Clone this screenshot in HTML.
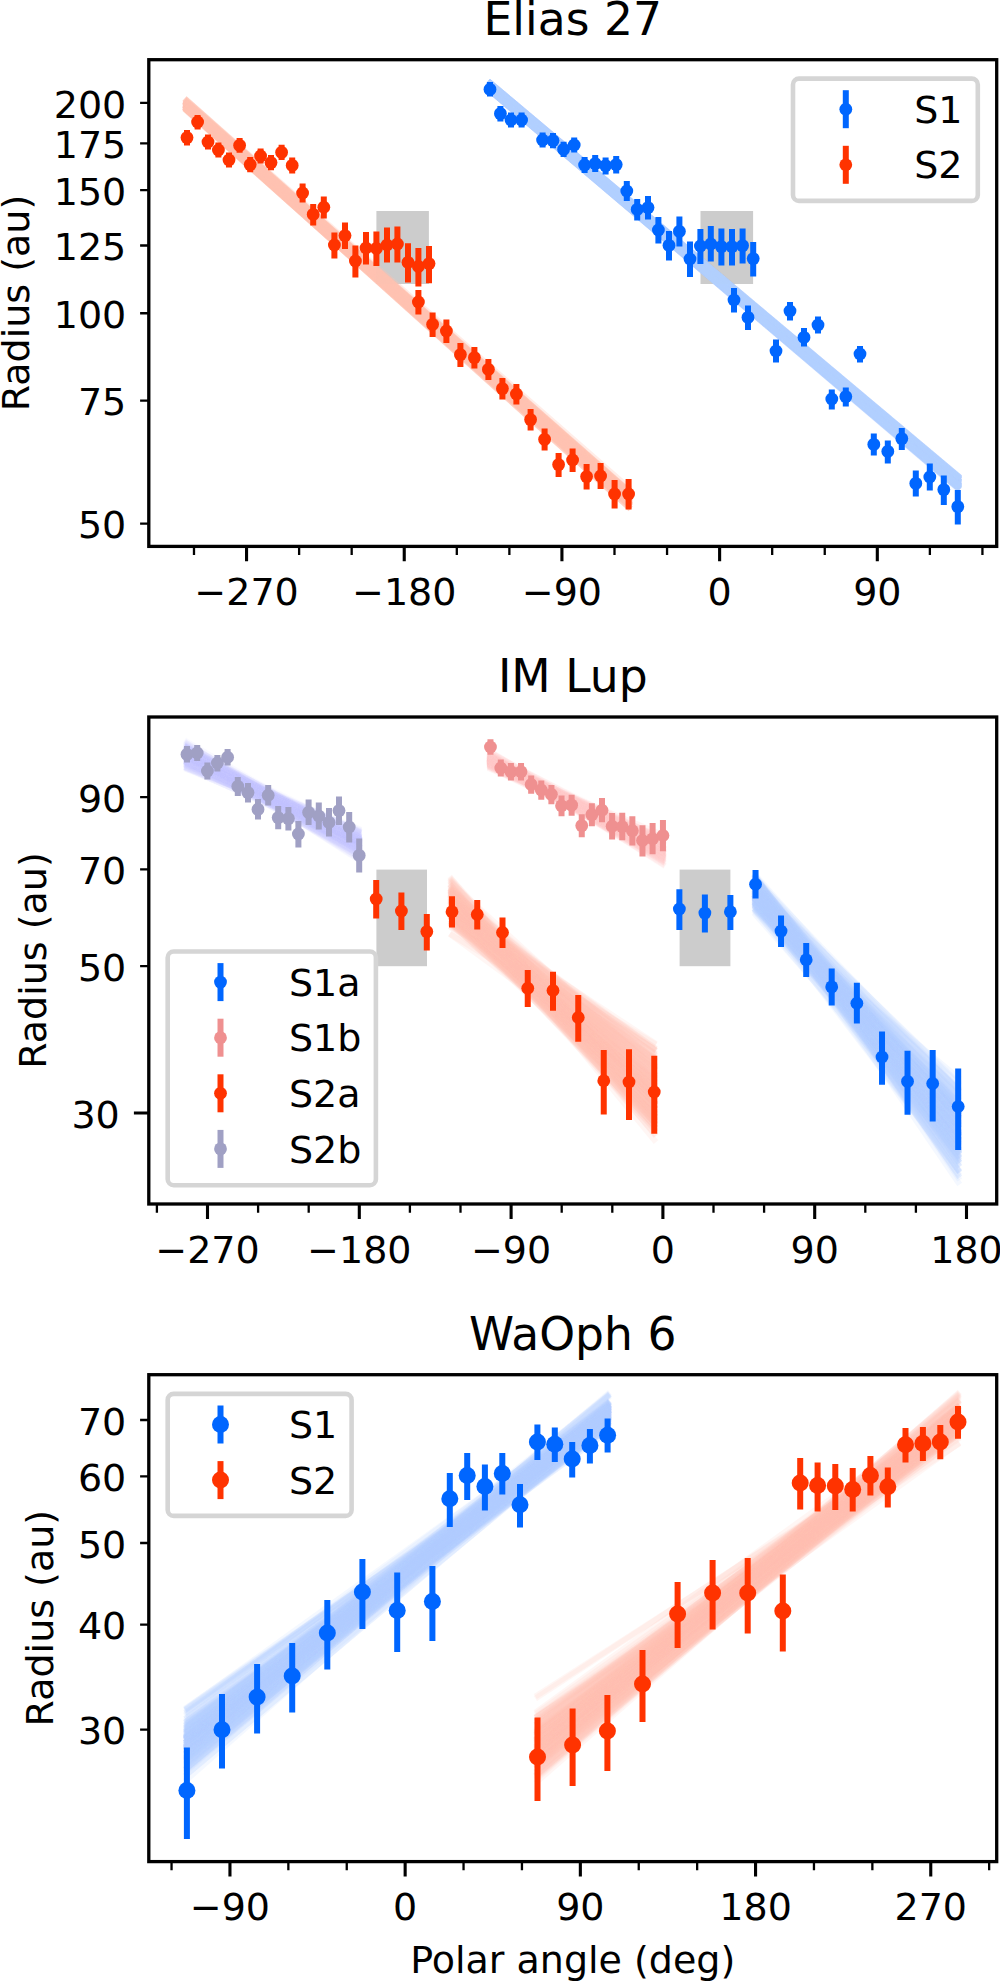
<!DOCTYPE html>
<html lang="en"><head><meta charset="utf-8"><title>Spiral arm radius vs polar angle</title>
<style>html,body{margin:0;padding:0;background:#fff}svg{display:block}text{font-family:'DejaVu Sans','Liberation Sans',sans-serif}</style>
</head><body>
<svg width="1000" height="1981" viewBox="0 0 1000 1981">
<rect width="1000" height="1981" fill="#fff"/>
<g id="p1">
<rect x="376.4" y="211" width="52.5" height="73" fill="#cccccc"/>
<rect x="700.5" y="211" width="52.6" height="73" fill="#cccccc"/>
<g stroke="#ffc2b3" stroke-width="6" stroke-opacity="0.3" fill="none">
<path d="M184.6 100.9L630.6 496.6"/>
<path d="M184.6 102.3L630.6 498.9"/>
<path d="M184.6 105.0L630.6 497.8"/>
<path d="M184.6 98.5L630.6 496.0"/>
<path d="M184.6 101.1L630.6 494.3"/>
<path d="M184.6 108.9L630.6 506.3"/>
<path d="M184.6 107.2L630.6 504.2"/>
<path d="M184.6 105.1L630.6 498.7"/>
<path d="M184.6 105.1L630.6 504.7"/>
<path d="M184.6 103.9L630.6 502.1"/>
<path d="M184.6 105.5L630.6 498.5"/>
<path d="M184.6 106.4L630.6 504.1"/>
<path d="M184.6 101.5L630.6 493.1"/>
<path d="M184.6 107.5L630.6 504.5"/>
<path d="M184.6 106.0L630.6 506.0"/>
<path d="M184.6 105.9L630.6 506.3"/>
<path d="M184.6 102.5L630.6 500.9"/>
<path d="M184.6 103.1L630.6 502.7"/>
<path d="M184.6 107.7L630.6 501.6"/>
<path d="M184.6 99.8L630.6 492.5"/>
<path d="M184.6 108.6L630.6 505.6"/>
<path d="M184.6 105.0L630.6 499.8"/>
<path d="M184.6 103.7L630.6 498.9"/>
<path d="M184.6 102.1L630.6 498.5"/>
<path d="M184.6 104.5L630.6 504.4"/>
<path d="M184.6 105.6L630.6 505.9"/>
<path d="M184.6 107.4L630.6 508.8"/>
<path d="M184.6 105.5L630.6 499.3"/>
<path d="M184.6 107.5L630.6 508.6"/>
<path d="M184.6 107.9L630.6 505.9"/>
<path d="M184.6 105.9L630.6 500.3"/>
<path d="M184.6 107.2L630.6 504.9"/>
<path d="M184.6 101.4L630.6 493.2"/>
<path d="M184.6 107.4L630.6 508.7"/>
<path d="M184.6 99.3L630.6 496.7"/>
<path d="M184.6 102.7L630.6 495.6"/>
<path d="M184.6 101.5L630.6 499.3"/>
<path d="M184.6 107.6L630.6 501.0"/>
<path d="M184.6 104.9L630.6 497.5"/>
<path d="M184.6 106.0L630.6 501.3"/>
<path d="M184.6 107.7L630.6 509.0"/>
<path d="M184.6 103.7L630.6 504.1"/>
<path d="M184.6 101.6L630.6 493.6"/>
<path d="M184.6 104.7L630.6 497.2"/>
<path d="M184.6 100.4L630.6 494.9"/>
<path d="M184.6 104.8L630.6 498.4"/>
<path d="M184.6 98.8L630.6 496.7"/>
<path d="M184.6 101.7L630.6 501.1"/>
<path d="M184.6 107.9L630.6 504.2"/>
<path d="M184.6 103.2L630.6 499.4"/>
<path d="M184.6 105.2L630.6 502.6"/>
<path d="M184.6 104.3L630.6 501.6"/>
<path d="M184.6 108.3L630.6 505.9"/>
<path d="M184.6 102.9L630.6 500.7"/>
<path d="M184.6 100.9L630.6 494.6"/>
<path d="M184.6 108.7L630.6 506.5"/>
<path d="M184.6 104.2L630.6 496.3"/>
<path d="M184.6 102.8L630.6 499.3"/>
<path d="M184.6 98.6L630.6 494.2"/>
<path d="M184.6 105.1L630.6 497.9"/>
<path d="M184.6 105.0L630.6 501.2"/>
<path d="M184.6 105.6L630.6 501.0"/>
<path d="M184.6 105.8L630.6 504.6"/>
<path d="M184.6 98.6L630.6 489.6"/>
<path d="M184.6 105.5L630.6 506.1"/>
<path d="M184.6 101.0L630.6 496.0"/>
<path d="M184.6 104.6L630.6 499.5"/>
<path d="M184.6 102.2L630.6 496.4"/>
<path d="M184.6 102.3L630.6 498.8"/>
<path d="M184.6 101.5L630.6 496.1"/>
<path d="M184.6 106.5L630.6 499.5"/>
<path d="M184.6 104.4L630.6 502.7"/>
<path d="M184.6 101.6L630.6 494.9"/>
<path d="M184.6 106.9L630.6 501.7"/>
<path d="M184.6 100.3L630.6 495.0"/>
<path d="M184.6 105.7L630.6 499.1"/>
<path d="M184.6 101.8L630.6 496.0"/>
<path d="M184.6 107.2L630.6 503.8"/>
<path d="M184.6 107.4L630.6 501.8"/>
<path d="M184.6 101.9L630.6 498.8"/>
<path d="M184.6 107.7L630.6 504.6"/>
<path d="M184.6 100.7L630.6 492.9"/>
<path d="M184.6 104.0L630.6 497.6"/>
<path d="M184.6 106.9L630.6 506.8"/>
<path d="M184.6 100.3L630.6 493.6"/>
<path d="M184.6 106.9L630.6 505.2"/>
<path d="M184.6 106.9L630.6 502.7"/>
<path d="M184.6 99.7L630.6 493.0"/>
<path d="M184.6 106.8L630.6 501.9"/>
<path d="M184.6 102.0L630.6 497.0"/>
</g>
<g stroke="#b3d1ff" stroke-width="6" stroke-opacity="0.3" fill="none">
<path d="M488 82.8L959.8 479.3"/>
<path d="M488 84.1L959.8 481.2"/>
<path d="M488 81.4L959.8 478.5"/>
<path d="M488 88.2L959.8 489.0"/>
<path d="M488 87.0L959.8 485.3"/>
<path d="M488 85.2L959.8 483.1"/>
<path d="M488 82.3L959.8 478.6"/>
<path d="M488 82.6L959.8 482.0"/>
<path d="M488 87.5L959.8 488.1"/>
<path d="M488 87.3L959.8 485.6"/>
<path d="M488 83.4L959.8 481.9"/>
<path d="M488 86.8L959.8 487.2"/>
<path d="M488 87.9L959.8 486.1"/>
<path d="M488 85.7L959.8 485.2"/>
<path d="M488 84.9L959.8 482.4"/>
<path d="M488 84.7L959.8 481.8"/>
<path d="M488 88.4L959.8 489.4"/>
<path d="M488 85.3L959.8 483.3"/>
<path d="M488 88.2L959.8 488.1"/>
<path d="M488 88.0L959.8 488.8"/>
<path d="M488 85.0L959.8 483.3"/>
<path d="M488 85.7L959.8 484.3"/>
<path d="M488 82.2L959.8 479.2"/>
<path d="M488 87.4L959.8 485.2"/>
<path d="M488 81.3L959.8 479.1"/>
<path d="M488 83.1L959.8 481.3"/>
<path d="M488 84.7L959.8 482.6"/>
<path d="M488 88.9L959.8 487.7"/>
<path d="M488 84.2L959.8 481.5"/>
<path d="M488 86.0L959.8 484.1"/>
<path d="M488 83.7L959.8 482.8"/>
<path d="M488 83.5L959.8 481.8"/>
<path d="M488 88.1L959.8 486.4"/>
<path d="M488 81.4L959.8 477.9"/>
<path d="M488 87.0L959.8 486.7"/>
<path d="M488 82.8L959.8 480.1"/>
<path d="M488 82.3L959.8 479.9"/>
<path d="M488 81.2L959.8 479.3"/>
<path d="M488 88.1L959.8 489.3"/>
<path d="M488 86.8L959.8 487.6"/>
<path d="M488 81.0L959.8 477.6"/>
<path d="M488 88.6L959.8 489.4"/>
<path d="M488 84.2L959.8 484.1"/>
<path d="M488 85.9L959.8 485.9"/>
<path d="M488 83.2L959.8 480.2"/>
<path d="M488 84.5L959.8 481.6"/>
<path d="M488 84.0L959.8 483.9"/>
<path d="M488 83.6L959.8 480.0"/>
<path d="M488 81.3L959.8 477.5"/>
<path d="M488 87.2L959.8 486.0"/>
<path d="M488 83.2L959.8 479.9"/>
<path d="M488 88.8L959.8 488.4"/>
<path d="M488 82.6L959.8 478.9"/>
<path d="M488 81.3L959.8 477.6"/>
<path d="M488 86.3L959.8 484.2"/>
<path d="M488 81.2L959.8 478.6"/>
<path d="M488 82.9L959.8 482.6"/>
<path d="M488 81.9L959.8 479.6"/>
<path d="M488 87.1L959.8 486.1"/>
<path d="M488 88.8L959.8 488.6"/>
<path d="M488 82.8L959.8 480.4"/>
<path d="M488 81.2L959.8 478.3"/>
<path d="M488 82.9L959.8 482.2"/>
<path d="M488 87.5L959.8 487.0"/>
<path d="M488 81.2L959.8 477.7"/>
<path d="M488 82.8L959.8 479.7"/>
<path d="M488 82.8L959.8 481.9"/>
<path d="M488 82.0L959.8 478.1"/>
<path d="M488 88.3L959.8 488.3"/>
<path d="M488 88.8L959.8 488.4"/>
<path d="M488 88.1L959.8 488.3"/>
<path d="M488 87.2L959.8 487.5"/>
<path d="M488 84.9L959.8 482.0"/>
<path d="M488 82.6L959.8 481.7"/>
<path d="M488 88.1L959.8 489.2"/>
<path d="M488 83.6L959.8 482.3"/>
<path d="M488 87.3L959.8 487.2"/>
<path d="M488 87.4L959.8 486.9"/>
<path d="M488 86.1L959.8 485.8"/>
<path d="M488 83.0L959.8 482.5"/>
<path d="M488 88.6L959.8 486.9"/>
<path d="M488 88.7L959.8 490.1"/>
<path d="M488 86.2L959.8 483.7"/>
<path d="M488 88.1L959.8 486.4"/>
<path d="M488 88.6L959.8 489.1"/>
<path d="M488 81.4L959.8 477.7"/>
<path d="M488 86.0L959.8 485.2"/>
<path d="M488 86.9L959.8 487.6"/>
<path d="M488 82.6L959.8 478.8"/>
<path d="M488 88.3L959.8 486.3"/>
</g>
<g stroke="#ff3300" stroke-width="6" fill="#ff3300">
<path d="M187 130V145.6M197.6 115V129.4M208 134.6V149.4M218.4 142.6V157.4M229 152.4V167.6M239.6 138V152.8M250.2 157V172.2M260.6 148.4V163.6M271 155V170.2M281.6 144.8V160M292.2 157.4V173.4M302.6 183.4V202.6M313.2 204V225.4M323.8 196.6V218.4M334.4 232.4V258.4M345 222.4V249M355.4 245.6V277.4M366 232V264.4M376.4 231.4V266M387 227.6V262.4M397.4 226.4V262.4M408 243.2V282.4M418.4 248V286.4M429 246V283.2M418.4 290V314.4M432.6 312.4V337M446.4 319.4V343M460.4 343V367M474.4 347V368.4M488.4 359V380M502.4 378V399.4M516.4 384V404.4M530.6 409V430.4M544.6 428.6V450.4M558.6 453V477M572.6 448.6V472M586.6 464V489.6M600.6 463V489M614.6 480V508.6M628.6 479V509.6" fill="none"/>
<g stroke="none">
<circle cx="187" cy="137.6" r="6.4"/>
<circle cx="197.6" cy="122" r="6.4"/>
<circle cx="208" cy="142" r="6.4"/>
<circle cx="218.4" cy="150" r="6.4"/>
<circle cx="229" cy="160" r="6.4"/>
<circle cx="239.6" cy="145.4" r="6.4"/>
<circle cx="250.2" cy="164.6" r="6.4"/>
<circle cx="260.6" cy="156" r="6.4"/>
<circle cx="271" cy="162.6" r="6.4"/>
<circle cx="281.6" cy="152.4" r="6.4"/>
<circle cx="292.2" cy="165.4" r="6.4"/>
<circle cx="302.6" cy="193" r="6.4"/>
<circle cx="313.2" cy="214.4" r="6.4"/>
<circle cx="323.8" cy="207.2" r="6.4"/>
<circle cx="334.4" cy="245" r="6.4"/>
<circle cx="345" cy="235.6" r="6.4"/>
<circle cx="355.4" cy="261" r="6.4"/>
<circle cx="366" cy="248" r="6.4"/>
<circle cx="376.4" cy="248.4" r="6.4"/>
<circle cx="387" cy="245" r="6.4"/>
<circle cx="397.4" cy="244" r="6.4"/>
<circle cx="408" cy="262.4" r="6.4"/>
<circle cx="418.4" cy="266.4" r="6.4"/>
<circle cx="429" cy="263.6" r="6.4"/>
<circle cx="418.4" cy="302" r="6.4"/>
<circle cx="432.6" cy="324.4" r="6.4"/>
<circle cx="446.4" cy="331" r="6.4"/>
<circle cx="460.4" cy="354.6" r="6.4"/>
<circle cx="474.4" cy="357.6" r="6.4"/>
<circle cx="488.4" cy="369.4" r="6.4"/>
<circle cx="502.4" cy="388.6" r="6.4"/>
<circle cx="516.4" cy="394" r="6.4"/>
<circle cx="530.6" cy="419.6" r="6.4"/>
<circle cx="544.6" cy="439.4" r="6.4"/>
<circle cx="558.6" cy="464.6" r="6.4"/>
<circle cx="572.6" cy="460" r="6.4"/>
<circle cx="586.6" cy="476.6" r="6.4"/>
<circle cx="600.6" cy="476" r="6.4"/>
<circle cx="614.6" cy="494" r="6.4"/>
<circle cx="628.6" cy="494" r="6.4"/>
</g></g>
<g stroke="#0066ff" stroke-width="6" fill="#0066ff">
<path d="M490 82V96.6M500.4 106V121.4M511 112.4V127.6M521.6 112.4V127.6M542.6 132.6V147.6M553 133V148.2M563.6 141.8V157M574.2 137.4V152.6M584.6 157V173M595.2 155V172M605.6 157.4V174.4M616.2 156V173.6M626.8 181V201M637.2 199V220.4M648 196V219.4M658.4 217V243.6M669 231V260.6M679.4 216.6V246.6M690 241.6V277M700.4 229V264M710.8 226V261.6M721.4 228.6V265.6M732 229V265.4M742.6 228.6V263.6M753.2 242V276.4M734 288V312.6M748 305.6V330M776 339.6V362.6M790 302V320.4M804 328V346.6M818 316.6V333.6M860 346V362.4M831.8 389.4V409.4M845.8 387.4V406.6M873.8 433.4V455.6M887.8 440.6V463.4M901.8 428V450M915.8 470.6V496.6M929.8 463.6V490.6M943.8 475.4V505M957.8 490V524.4" fill="none"/>
<g stroke="none">
<circle cx="490" cy="89.4" r="6.4"/>
<circle cx="500.4" cy="113.6" r="6.4"/>
<circle cx="511" cy="120" r="6.4"/>
<circle cx="521.6" cy="120" r="6.4"/>
<circle cx="542.6" cy="140" r="6.4"/>
<circle cx="553" cy="140.6" r="6.4"/>
<circle cx="563.6" cy="149.4" r="6.4"/>
<circle cx="574.2" cy="145" r="6.4"/>
<circle cx="584.6" cy="165" r="6.4"/>
<circle cx="595.2" cy="163.6" r="6.4"/>
<circle cx="605.6" cy="165.6" r="6.4"/>
<circle cx="616.2" cy="164.6" r="6.4"/>
<circle cx="626.8" cy="191" r="6.4"/>
<circle cx="637.2" cy="209.4" r="6.4"/>
<circle cx="648" cy="207.6" r="6.4"/>
<circle cx="658.4" cy="230" r="6.4"/>
<circle cx="669" cy="245.4" r="6.4"/>
<circle cx="679.4" cy="231.4" r="6.4"/>
<circle cx="690" cy="259" r="6.4"/>
<circle cx="700.4" cy="246" r="6.4"/>
<circle cx="710.8" cy="244" r="6.4"/>
<circle cx="721.4" cy="246.6" r="6.4"/>
<circle cx="732" cy="246.6" r="6.4"/>
<circle cx="742.6" cy="245.6" r="6.4"/>
<circle cx="753.2" cy="258.6" r="6.4"/>
<circle cx="734" cy="300" r="6.4"/>
<circle cx="748" cy="317.4" r="6.4"/>
<circle cx="776" cy="351" r="6.4"/>
<circle cx="790" cy="311" r="6.4"/>
<circle cx="804" cy="337.4" r="6.4"/>
<circle cx="818" cy="325" r="6.4"/>
<circle cx="860" cy="354" r="6.4"/>
<circle cx="831.8" cy="399" r="6.4"/>
<circle cx="845.8" cy="396.6" r="6.4"/>
<circle cx="873.8" cy="444.4" r="6.4"/>
<circle cx="887.8" cy="451.4" r="6.4"/>
<circle cx="901.8" cy="438.6" r="6.4"/>
<circle cx="915.8" cy="483.4" r="6.4"/>
<circle cx="929.8" cy="477" r="6.4"/>
<circle cx="943.8" cy="489.6" r="6.4"/>
<circle cx="957.8" cy="506.6" r="6.4"/>
</g></g>
<path d="M246.55 546.4v14.9M404.24 546.4v14.9M561.93 546.4v14.9M719.62 546.4v14.9M877.31 546.4v14.9" stroke="#000" stroke-width="3.1" fill="none"/>
<path d="M193.99 546.4v8.7M299.12 546.4v8.7M351.68 546.4v8.7M456.81 546.4v8.7M509.37 546.4v8.7M614.49 546.4v8.7M667.06 546.4v8.7M772.18 546.4v8.7M824.75 546.4v8.7M929.87 546.4v8.7M982.43 546.4v8.7M148.8 102.86h-8.7M148.8 143.39h-8.7M148.8 190.17h-8.7M148.8 245.51h-8.7M148.8 313.23h-8.7M148.8 400.54h-8.7M148.8 523.6h-8.7" stroke="#000" stroke-width="2.3" fill="none"/>
<rect x="148.8" y="59.7" width="847.9" height="486.7" fill="none" stroke="#000" stroke-width="3.3"/>
<g font-size="38" fill="#000">
<text x="246.55" y="605" text-anchor="middle">−270</text>
<text x="404.24" y="605" text-anchor="middle">−180</text>
<text x="561.93" y="605" text-anchor="middle">−90</text>
<text x="719.62" y="605" text-anchor="middle">0</text>
<text x="877.31" y="605" text-anchor="middle">90</text>
<text x="126.3" y="117.56" text-anchor="end">200</text>
<text x="126.3" y="158.09" text-anchor="end">175</text>
<text x="126.3" y="204.87" text-anchor="end">150</text>
<text x="126.3" y="260.21" text-anchor="end">125</text>
<text x="126.3" y="327.93" text-anchor="end">100</text>
<text x="126.3" y="415.24" text-anchor="end">75</text>
<text x="126.3" y="538.3" text-anchor="end">50</text>
<text transform="translate(29 303.05) rotate(-90)" text-anchor="middle">Radius (au)</text>
</g>
<text x="572.75" y="34.5" text-anchor="middle" font-size="45.6">Elias 27</text>
<rect x="793" y="78.6" width="184.8" height="122.3" rx="6" ry="6" fill="#fff" fill-opacity="0.8" stroke="#d5d5d5" stroke-width="4.6"/>
<path d="M845.8 90.2V128.2" stroke="#0066ff" stroke-width="6" fill="none"/>
<circle cx="845.8" cy="109.2" r="6.4" fill="#0066ff"/>
<text x="914.2" y="122.8" font-size="38">S1</text>
<path d="M845.8 145.8V183.8" stroke="#ff3300" stroke-width="6" fill="none"/>
<circle cx="845.8" cy="164.8" r="6.4" fill="#ff3300"/>
<text x="914.2" y="178.4" font-size="38">S2</text>
</g>
<g id="p2">
<rect x="376.4" y="869.6" width="50.6" height="96.6" fill="#cccccc"/>
<rect x="679.6" y="869.6" width="50.8" height="96.6" fill="#cccccc"/>
<g stroke="#ccccff" stroke-width="5.8" stroke-opacity="0.11" fill="none">
<path d="M184.5 747.5L361 840.8"/>
<path d="M184.5 758.4L361 829.6"/>
<path d="M184.5 753.7L361 831.8"/>
<path d="M184.5 761.0L361 842.9"/>
<path d="M184.5 762.5L361 838.2"/>
<path d="M184.5 756.8L361 841.8"/>
<path d="M184.5 750.1L361 847.2"/>
<path d="M184.5 747.1L361 845.6"/>
<path d="M184.5 758.6L361 843.1"/>
<path d="M184.5 752.1L361 858.2"/>
<path d="M184.5 754.8L361 841.0"/>
<path d="M184.5 755.4L361 841.1"/>
<path d="M184.5 752.2L361 843.4"/>
<path d="M184.5 766.4L361 839.5"/>
<path d="M184.5 755.5L361 848.0"/>
<path d="M184.5 766.4L361 838.1"/>
<path d="M184.5 750.8L361 860.4"/>
<path d="M184.5 745.9L361 846.1"/>
<path d="M184.5 758.4L361 856.0"/>
<path d="M184.5 748.9L361 832.9"/>
<path d="M184.5 758.4L361 839.8"/>
<path d="M184.5 752.2L361 848.1"/>
<path d="M184.5 755.8L361 845.6"/>
<path d="M184.5 752.0L361 853.0"/>
<path d="M184.5 763.4L361 840.9"/>
<path d="M184.5 751.8L361 849.9"/>
<path d="M184.5 757.3L361 837.3"/>
<path d="M184.5 751.8L361 851.7"/>
<path d="M184.5 753.9L361 842.8"/>
<path d="M184.5 755.8L361 843.8"/>
<path d="M184.5 754.5L361 833.4"/>
<path d="M184.5 764.8L361 841.2"/>
<path d="M184.5 749.3L361 852.4"/>
<path d="M184.5 756.3L361 843.8"/>
<path d="M184.5 760.7L361 854.9"/>
<path d="M184.5 757.8L361 852.3"/>
<path d="M184.5 767.2L361 833.2"/>
<path d="M184.5 751.4L361 850.3"/>
<path d="M184.5 744.4L361 847.3"/>
<path d="M184.5 762.1L361 847.3"/>
<path d="M184.5 757.9L361 832.1"/>
<path d="M184.5 768.4L361 841.8"/>
<path d="M184.5 759.0L361 845.4"/>
<path d="M184.5 744.4L361 840.5"/>
<path d="M184.5 747.3L361 858.6"/>
<path d="M184.5 749.6L361 845.2"/>
<path d="M184.5 753.0L361 848.4"/>
<path d="M184.5 757.5L361 844.8"/>
<path d="M184.5 747.1L361 848.6"/>
<path d="M184.5 756.1L361 850.9"/>
<path d="M184.5 753.9L361 841.2"/>
<path d="M184.5 756.9L361 834.5"/>
<path d="M184.5 748.4L361 841.3"/>
<path d="M184.5 756.2L361 855.8"/>
<path d="M184.5 759.0L361 849.2"/>
<path d="M184.5 755.9L361 845.5"/>
<path d="M184.5 751.8L361 844.0"/>
<path d="M184.5 740.2L361 843.7"/>
<path d="M184.5 746.9L361 852.6"/>
<path d="M184.5 758.4L361 849.4"/>
<path d="M184.5 763.7L361 838.8"/>
<path d="M184.5 760.7L361 853.1"/>
<path d="M184.5 754.4L361 850.8"/>
<path d="M184.5 753.5L361 835.6"/>
<path d="M184.5 755.2L361 839.4"/>
<path d="M184.5 755.1L361 841.6"/>
<path d="M184.5 756.4L361 831.4"/>
<path d="M184.5 766.8L361 847.1"/>
<path d="M184.5 752.4L361 840.1"/>
<path d="M184.5 754.5L361 848.4"/>
<path d="M184.5 757.0L361 845.8"/>
<path d="M184.5 742.9L361 842.9"/>
<path d="M184.5 762.4L361 842.5"/>
<path d="M184.5 745.5L361 843.3"/>
<path d="M184.5 746.0L361 842.3"/>
<path d="M184.5 761.5L361 840.2"/>
<path d="M184.5 761.2L361 842.7"/>
<path d="M184.5 745.5L361 844.5"/>
<path d="M184.5 768.2L361 834.2"/>
<path d="M184.5 748.2L361 854.4"/>
<path d="M184.5 755.0L361 844.2"/>
<path d="M184.5 763.3L361 830.4"/>
<path d="M184.5 757.0L361 837.2"/>
<path d="M184.5 746.1L361 843.3"/>
<path d="M184.5 761.4L361 840.7"/>
<path d="M184.5 743.5L361 842.7"/>
<path d="M184.5 763.7L361 846.6"/>
<path d="M184.5 747.9L361 861.6"/>
<path d="M184.5 752.3L361 838.4"/>
<path d="M184.5 753.7L361 850.4"/>
<path d="M184.5 764.2L361 846.4"/>
<path d="M184.5 751.9L361 842.3"/>
<path d="M184.5 745.7L361 847.8"/>
<path d="M184.5 750.9L361 847.5"/>
<path d="M184.5 746.9L361 844.7"/>
<path d="M184.5 749.2L361 839.7"/>
<path d="M184.5 747.4L361 841.5"/>
<path d="M184.5 747.4L361 850.9"/>
<path d="M184.5 755.1L361 836.4"/>
<path d="M184.5 757.6L361 844.9"/>
<path d="M184.5 763.3L361 839.6"/>
<path d="M184.5 753.2L361 841.0"/>
<path d="M184.5 755.3L361 847.1"/>
<path d="M184.5 755.6L361 842.5"/>
<path d="M184.5 757.9L361 843.6"/>
<path d="M184.5 756.0L361 838.3"/>
<path d="M184.5 755.7L361 838.1"/>
<path d="M184.5 749.4L361 847.6"/>
<path d="M184.5 767.2L361 845.0"/>
<path d="M184.5 754.5L361 843.4"/>
<path d="M184.5 760.5L361 850.1"/>
<path d="M184.5 761.9L361 840.3"/>
<path d="M184.5 755.6L361 842.1"/>
<path d="M184.5 752.8L361 840.2"/>
<path d="M184.5 753.0L361 832.4"/>
<path d="M184.5 747.3L361 850.1"/>
<path d="M184.5 748.9L361 850.1"/>
<path d="M184.5 746.7L361 845.7"/>
<path d="M184.5 756.9L361 837.4"/>
<path d="M184.5 750.2L361 842.3"/>
<path d="M184.5 750.2L361 842.9"/>
<path d="M184.5 754.7L361 844.3"/>
<path d="M184.5 760.4L361 846.6"/>
<path d="M184.5 752.1L361 843.4"/>
<path d="M184.5 746.0L361 839.3"/>
<path d="M184.5 750.0L361 850.7"/>
<path d="M184.5 755.2L361 848.9"/>
<path d="M184.5 760.2L361 841.1"/>
<path d="M184.5 767.2L361 836.0"/>
<path d="M184.5 750.7L361 843.6"/>
<path d="M184.5 761.4L361 840.8"/>
<path d="M184.5 750.0L361 849.0"/>
<path d="M184.5 761.3L361 840.9"/>
<path d="M184.5 753.0L361 851.6"/>
<path d="M184.5 760.4L361 847.5"/>
<path d="M184.5 749.9L361 848.1"/>
<path d="M184.5 756.7L361 833.0"/>
<path d="M184.5 761.8L361 842.0"/>
<path d="M184.5 752.4L361 858.7"/>
<path d="M184.5 755.4L361 839.9"/>
<path d="M184.5 754.1L361 848.0"/>
<path d="M184.5 759.4L361 842.1"/>
<path d="M184.5 749.3L361 842.6"/>
<path d="M184.5 749.6L361 840.4"/>
<path d="M184.5 754.4L361 841.7"/>
<path d="M184.5 754.8L361 839.5"/>
<path d="M184.5 749.3L361 845.6"/>
<path d="M184.5 752.4L361 852.2"/>
<path d="M184.5 749.1L361 848.0"/>
<path d="M184.5 754.3L361 836.9"/>
<path d="M184.5 758.9L361 843.6"/>
<path d="M184.5 741.9L361 853.4"/>
<path d="M184.5 760.1L361 837.4"/>
<path d="M184.5 764.7L361 841.1"/>
<path d="M184.5 747.6L361 850.8"/>
<path d="M184.5 752.3L361 837.5"/>
<path d="M184.5 741.6L361 851.5"/>
<path d="M184.5 750.1L361 850.2"/>
<path d="M184.5 756.8L361 840.4"/>
<path d="M184.5 751.3L361 856.3"/>
<path d="M184.5 764.8L361 844.5"/>
<path d="M184.5 752.4L361 839.6"/>
<path d="M184.5 752.2L361 855.3"/>
<path d="M184.5 757.3L361 841.6"/>
<path d="M184.5 747.1L361 848.6"/>
<path d="M184.5 749.2L361 846.8"/>
<path d="M184.5 759.0L361 848.9"/>
<path d="M184.5 755.3L361 842.1"/>
<path d="M184.5 755.9L361 854.5"/>
<path d="M184.5 756.8L361 835.3"/>
</g>
<g stroke="#ffcccc" stroke-width="5.8" stroke-opacity="0.12" fill="none">
<path d="M488 761.0L665 838.6"/>
<path d="M488 755.9L665 853.8"/>
<path d="M488 764.9L665 846.5"/>
<path d="M488 752.4L665 858.0"/>
<path d="M488 754.2L665 862.1"/>
<path d="M488 758.0L665 862.6"/>
<path d="M488 758.5L665 845.2"/>
<path d="M488 753.1L665 853.3"/>
<path d="M488 760.8L665 856.9"/>
<path d="M488 760.1L665 845.7"/>
<path d="M488 761.0L665 840.7"/>
<path d="M488 761.0L665 844.9"/>
<path d="M488 765.0L665 852.4"/>
<path d="M488 760.5L665 843.7"/>
<path d="M488 761.2L665 851.6"/>
<path d="M488 756.8L665 848.9"/>
<path d="M488 764.1L665 844.7"/>
<path d="M488 760.8L665 858.1"/>
<path d="M488 753.1L665 866.4"/>
<path d="M488 763.1L665 844.0"/>
<path d="M488 755.2L665 846.5"/>
<path d="M488 762.7L665 853.8"/>
<path d="M488 759.7L665 846.3"/>
<path d="M488 757.0L665 850.3"/>
<path d="M488 758.1L665 857.1"/>
<path d="M488 755.7L665 860.2"/>
<path d="M488 763.0L665 846.4"/>
<path d="M488 761.4L665 845.8"/>
<path d="M488 759.2L665 853.9"/>
<path d="M488 766.8L665 844.8"/>
<path d="M488 758.4L665 851.7"/>
<path d="M488 758.3L665 845.0"/>
<path d="M488 766.5L665 841.5"/>
<path d="M488 756.7L665 848.5"/>
<path d="M488 761.8L665 854.9"/>
<path d="M488 760.4L665 849.8"/>
<path d="M488 755.0L665 858.6"/>
<path d="M488 758.6L665 864.0"/>
<path d="M488 757.9L665 845.7"/>
<path d="M488 751.6L665 845.8"/>
<path d="M488 761.5L665 851.2"/>
<path d="M488 754.4L665 845.2"/>
<path d="M488 760.1L665 848.0"/>
<path d="M488 759.9L665 850.2"/>
<path d="M488 755.9L665 842.8"/>
<path d="M488 759.5L665 851.2"/>
<path d="M488 759.7L665 856.2"/>
<path d="M488 762.7L665 845.1"/>
<path d="M488 761.4L665 835.9"/>
<path d="M488 761.7L665 848.7"/>
<path d="M488 763.1L665 853.9"/>
<path d="M488 755.2L665 853.1"/>
<path d="M488 763.5L665 844.2"/>
<path d="M488 759.3L665 847.0"/>
<path d="M488 761.4L665 851.0"/>
<path d="M488 755.7L665 844.8"/>
<path d="M488 750.1L665 863.1"/>
<path d="M488 757.2L665 848.1"/>
<path d="M488 756.9L665 847.0"/>
<path d="M488 761.8L665 852.7"/>
<path d="M488 750.0L665 857.7"/>
<path d="M488 759.4L665 848.7"/>
<path d="M488 759.4L665 861.0"/>
<path d="M488 760.3L665 857.4"/>
<path d="M488 763.1L665 838.6"/>
<path d="M488 766.2L665 846.8"/>
<path d="M488 757.9L665 857.1"/>
<path d="M488 768.1L665 839.2"/>
<path d="M488 756.3L665 855.3"/>
<path d="M488 751.8L665 849.7"/>
<path d="M488 759.2L665 855.5"/>
<path d="M488 761.2L665 854.5"/>
<path d="M488 763.4L665 845.0"/>
<path d="M488 757.6L665 850.2"/>
<path d="M488 757.7L665 858.9"/>
<path d="M488 762.5L665 835.6"/>
<path d="M488 761.0L665 843.0"/>
<path d="M488 754.5L665 862.5"/>
<path d="M488 764.4L665 854.1"/>
<path d="M488 761.8L665 860.1"/>
<path d="M488 754.4L665 859.7"/>
<path d="M488 756.3L665 849.4"/>
<path d="M488 752.4L665 865.6"/>
<path d="M488 766.3L665 850.9"/>
<path d="M488 756.7L665 854.0"/>
<path d="M488 754.7L665 852.7"/>
<path d="M488 765.2L665 856.3"/>
<path d="M488 761.8L665 853.8"/>
<path d="M488 758.5L665 853.7"/>
<path d="M488 758.4L665 854.6"/>
<path d="M488 756.5L665 859.2"/>
<path d="M488 758.1L665 853.0"/>
<path d="M488 758.5L665 861.0"/>
<path d="M488 762.8L665 843.3"/>
<path d="M488 755.2L665 857.6"/>
<path d="M488 759.5L665 849.3"/>
<path d="M488 760.0L665 860.6"/>
<path d="M488 758.7L665 860.2"/>
<path d="M488 757.1L665 851.1"/>
<path d="M488 760.3L665 849.6"/>
<path d="M488 757.0L665 846.0"/>
<path d="M488 757.7L665 849.6"/>
<path d="M488 759.1L665 857.5"/>
<path d="M488 761.2L665 856.6"/>
<path d="M488 759.9L665 853.2"/>
<path d="M488 761.6L665 853.6"/>
<path d="M488 763.2L665 844.5"/>
<path d="M488 760.8L665 851.0"/>
<path d="M488 764.1L665 852.5"/>
<path d="M488 756.8L665 855.4"/>
<path d="M488 762.0L665 849.2"/>
<path d="M488 764.2L665 848.8"/>
<path d="M488 753.9L665 856.9"/>
<path d="M488 762.3L665 843.7"/>
<path d="M488 761.9L665 861.4"/>
<path d="M488 753.4L665 852.5"/>
<path d="M488 757.8L665 843.4"/>
<path d="M488 760.3L665 844.5"/>
<path d="M488 753.6L665 841.0"/>
<path d="M488 761.9L665 856.1"/>
<path d="M488 757.9L665 853.2"/>
<path d="M488 765.5L665 848.5"/>
<path d="M488 763.7L665 853.7"/>
<path d="M488 762.1L665 852.1"/>
<path d="M488 763.9L665 848.8"/>
<path d="M488 759.6L665 846.3"/>
<path d="M488 750.7L665 851.9"/>
<path d="M488 757.8L665 858.5"/>
<path d="M488 757.7L665 840.0"/>
<path d="M488 761.9L665 856.6"/>
<path d="M488 760.4L665 851.9"/>
<path d="M488 760.3L665 849.8"/>
<path d="M488 764.8L665 841.7"/>
<path d="M488 756.1L665 844.4"/>
<path d="M488 757.1L665 848.4"/>
<path d="M488 756.5L665 854.3"/>
<path d="M488 763.4L665 839.5"/>
<path d="M488 759.6L665 846.4"/>
<path d="M488 756.4L665 850.4"/>
<path d="M488 760.7L665 840.0"/>
<path d="M488 765.3L665 845.9"/>
<path d="M488 756.2L665 843.5"/>
<path d="M488 763.5L665 852.1"/>
<path d="M488 762.7L665 849.3"/>
<path d="M488 766.2L665 855.4"/>
<path d="M488 767.9L665 846.6"/>
<path d="M488 763.1L665 845.8"/>
<path d="M488 759.6L665 848.8"/>
<path d="M488 759.4L665 851.4"/>
<path d="M488 759.3L665 851.0"/>
<path d="M488 759.8L665 848.1"/>
<path d="M488 756.3L665 850.4"/>
<path d="M488 761.8L665 853.5"/>
<path d="M488 763.6L665 841.4"/>
<path d="M488 762.6L665 840.4"/>
<path d="M488 756.8L665 847.9"/>
<path d="M488 759.4L665 859.0"/>
<path d="M488 765.3L665 848.5"/>
<path d="M488 763.1L665 850.7"/>
<path d="M488 754.1L665 865.2"/>
<path d="M488 756.7L665 849.7"/>
<path d="M488 758.8L665 845.4"/>
<path d="M488 756.5L665 857.7"/>
<path d="M488 755.2L665 850.1"/>
<path d="M488 752.1L665 844.8"/>
<path d="M488 760.4L665 852.8"/>
<path d="M488 757.6L665 862.8"/>
<path d="M488 755.1L665 857.4"/>
<path d="M488 756.1L665 853.2"/>
<path d="M488 761.1L665 841.1"/>
</g>
<g stroke="#ffc2b3" stroke-width="5.8" stroke-opacity="0.15" fill="none">
<path d="M449.7 899.8L656 1105.5"/>
<path d="M449.7 900.1L656 1088.7"/>
<path d="M449.7 891.2L656 1095.2"/>
<path d="M449.7 917.1L656 1095.1"/>
<path d="M449.7 916.2L656 1092.1"/>
<path d="M449.7 908.0L656 1094.8"/>
<path d="M449.7 881.8L656 1121.2"/>
<path d="M449.7 909.4L656 1100.4"/>
<path d="M449.7 881.5L656 1069.3"/>
<path d="M449.7 891.7L656 1089.8"/>
<path d="M449.7 906.9L656 1090.8"/>
<path d="M449.7 909.6L656 1077.5"/>
<path d="M449.7 906.9L656 1099.6"/>
<path d="M449.7 894.6L656 1132.2"/>
<path d="M449.7 910.1L656 1114.1"/>
<path d="M449.7 895.1L656 1082.7"/>
<path d="M449.7 898.6L656 1093.6"/>
<path d="M449.7 911.0L656 1094.6"/>
<path d="M449.7 897.3L656 1077.2"/>
<path d="M449.7 896.4L656 1121.3"/>
<path d="M449.7 892.7L656 1103.6"/>
<path d="M449.7 908.4L656 1061.1"/>
<path d="M449.7 903.6L656 1119.5"/>
<path d="M449.7 877.4L656 1099.8"/>
<path d="M449.7 901.7L656 1077.9"/>
<path d="M449.7 909.3L656 1089.2"/>
<path d="M449.7 884.4L656 1119.4"/>
<path d="M449.7 911.5L656 1108.3"/>
<path d="M449.7 921.3L656 1091.8"/>
<path d="M449.7 904.5L656 1066.8"/>
<path d="M449.7 910.8L656 1077.5"/>
<path d="M449.7 897.3L656 1071.1"/>
<path d="M449.7 890.7L656 1089.1"/>
<path d="M449.7 919.4L656 1044.8"/>
<path d="M449.7 884.5L656 1107.6"/>
<path d="M449.7 921.3L656 1096.1"/>
<path d="M449.7 878.9L656 1112.7"/>
<path d="M449.7 893.6L656 1075.8"/>
<path d="M449.7 915.4L656 1109.5"/>
<path d="M449.7 905.0L656 1097.5"/>
<path d="M449.7 908.5L656 1122.8"/>
<path d="M449.7 910.9L656 1100.1"/>
<path d="M449.7 910.0L656 1058.7"/>
<path d="M449.7 919.3L656 1104.7"/>
<path d="M449.7 909.7L656 1050.7"/>
<path d="M449.7 895.0L656 1114.5"/>
<path d="M449.7 880.0L656 1101.3"/>
<path d="M449.7 915.9L656 1060.9"/>
<path d="M449.7 923.4L656 1094.5"/>
<path d="M449.7 901.1L656 1101.1"/>
<path d="M449.7 911.3L656 1091.9"/>
<path d="M449.7 917.5L656 1073.1"/>
<path d="M449.7 897.7L656 1117.1"/>
<path d="M449.7 903.3L656 1075.8"/>
<path d="M449.7 915.0L656 1117.0"/>
<path d="M449.7 897.4L656 1068.8"/>
<path d="M449.7 901.3L656 1091.5"/>
<path d="M449.7 899.2L656 1123.6"/>
<path d="M449.7 890.0L656 1125.3"/>
<path d="M449.7 886.9L656 1085.8"/>
<path d="M449.7 911.0L656 1112.2"/>
<path d="M449.7 913.9L656 1095.1"/>
<path d="M449.7 904.8L656 1095.8"/>
<path d="M449.7 910.3L656 1086.4"/>
<path d="M449.7 906.5L656 1103.3"/>
<path d="M449.7 903.0L656 1108.9"/>
<path d="M449.7 910.2L656 1130.3"/>
<path d="M449.7 907.1L656 1083.0"/>
<path d="M449.7 898.3L656 1095.7"/>
<path d="M449.7 914.7L656 1081.0"/>
<path d="M449.7 907.9L656 1128.0"/>
<path d="M449.7 888.7L656 1105.6"/>
<path d="M449.7 908.1L656 1095.9"/>
<path d="M449.7 897.5L656 1109.4"/>
<path d="M449.7 906.6L656 1081.4"/>
<path d="M449.7 933.9L656 1085.4"/>
<path d="M449.7 896.0L656 1095.1"/>
<path d="M449.7 900.1L656 1093.8"/>
<path d="M449.7 896.8L656 1116.9"/>
<path d="M449.7 888.2L656 1099.6"/>
<path d="M449.7 915.1L656 1104.7"/>
<path d="M449.7 921.9L656 1050.1"/>
<path d="M449.7 898.5L656 1089.0"/>
<path d="M449.7 910.9L656 1111.5"/>
<path d="M449.7 916.8L656 1057.7"/>
<path d="M449.7 911.7L656 1059.4"/>
<path d="M449.7 905.2L656 1116.4"/>
<path d="M449.7 901.1L656 1098.4"/>
<path d="M449.7 913.1L656 1091.4"/>
<path d="M449.7 901.9L656 1124.9"/>
<path d="M449.7 916.3L656 1081.1"/>
<path d="M449.7 888.4L656 1119.1"/>
<path d="M449.7 899.6L656 1097.9"/>
<path d="M449.7 912.0L656 1093.6"/>
<path d="M449.7 911.1L656 1059.0"/>
<path d="M449.7 883.8L656 1115.4"/>
<path d="M449.7 890.8L656 1079.1"/>
<path d="M449.7 884.3L656 1128.2"/>
<path d="M449.7 912.5L656 1118.4"/>
<path d="M449.7 891.1L656 1099.5"/>
<path d="M449.7 888.5L656 1116.1"/>
<path d="M449.7 923.2L656 1065.8"/>
<path d="M449.7 922.8L656 1103.6"/>
<path d="M449.7 900.7L656 1055.2"/>
<path d="M449.7 920.9L656 1082.8"/>
<path d="M449.7 895.3L656 1105.4"/>
<path d="M449.7 908.2L656 1121.0"/>
<path d="M449.7 890.0L656 1122.8"/>
<path d="M449.7 921.9L656 1113.3"/>
<path d="M449.7 900.7L656 1079.8"/>
<path d="M449.7 915.9L656 1089.5"/>
<path d="M449.7 904.6L656 1121.3"/>
<path d="M449.7 899.7L656 1049.2"/>
<path d="M449.7 898.1L656 1058.9"/>
<path d="M449.7 913.4L656 1094.8"/>
<path d="M449.7 895.2L656 1097.3"/>
<path d="M449.7 913.6L656 1089.9"/>
<path d="M449.7 919.8L656 1084.0"/>
<path d="M449.7 916.2L656 1116.9"/>
<path d="M449.7 923.4L656 1070.0"/>
<path d="M449.7 914.2L656 1050.5"/>
<path d="M449.7 889.2L656 1061.1"/>
<path d="M449.7 916.6L656 1062.2"/>
<path d="M449.7 902.8L656 1089.8"/>
<path d="M449.7 902.6L656 1081.9"/>
<path d="M449.7 906.0L656 1128.0"/>
<path d="M449.7 903.6L656 1104.0"/>
<path d="M449.7 915.7L656 1083.3"/>
<path d="M449.7 887.0L656 1090.4"/>
<path d="M449.7 916.6L656 1053.9"/>
<path d="M449.7 895.4L656 1117.5"/>
<path d="M449.7 913.1L656 1088.8"/>
<path d="M449.7 913.2L656 1091.9"/>
<path d="M449.7 888.0L656 1069.7"/>
<path d="M449.7 894.9L656 1116.1"/>
<path d="M449.7 895.8L656 1079.1"/>
<path d="M449.7 893.2L656 1067.8"/>
<path d="M449.7 901.5L656 1070.7"/>
<path d="M449.7 907.6L656 1044.0"/>
<path d="M449.7 907.2L656 1078.7"/>
<path d="M449.7 878.3L656 1120.4"/>
<path d="M449.7 899.5L656 1050.7"/>
<path d="M449.7 891.9L656 1104.9"/>
<path d="M449.7 897.2L656 1112.1"/>
<path d="M449.7 912.5L656 1102.2"/>
<path d="M449.7 907.1L656 1118.3"/>
<path d="M449.7 911.4L656 1098.5"/>
<path d="M449.7 876.5L656 1124.7"/>
<path d="M449.7 919.6L656 1079.4"/>
<path d="M449.7 897.0L656 1135.4"/>
<path d="M449.7 880.7L656 1114.1"/>
<path d="M449.7 933.8L656 1059.7"/>
<path d="M449.7 911.8L656 1127.0"/>
<path d="M449.7 901.5L656 1105.6"/>
<path d="M449.7 914.5L656 1069.8"/>
<path d="M449.7 901.9L656 1100.0"/>
<path d="M449.7 913.5L656 1087.7"/>
<path d="M449.7 900.5L656 1074.5"/>
<path d="M449.7 898.4L656 1113.7"/>
<path d="M449.7 904.3L656 1075.9"/>
<path d="M449.7 892.3L656 1121.7"/>
<path d="M449.7 911.1L656 1102.0"/>
<path d="M449.7 909.1L656 1124.3"/>
<path d="M449.7 908.4L656 1089.6"/>
<path d="M449.7 909.6L656 1051.4"/>
<path d="M449.7 916.1L656 1093.6"/>
<path d="M449.7 894.1L656 1124.6"/>
<path d="M449.7 926.0L656 1054.1"/>
<path d="M449.7 894.5L656 1103.6"/>
<path d="M449.7 905.3L656 1084.5"/>
<path d="M449.7 890.6L656 1142.2"/>
<path d="M449.7 916.2L656 1063.1"/>
<path d="M449.7 885.9L656 1136.2"/>
<path d="M449.7 915.6L656 1123.8"/>
<path d="M449.7 913.3L656 1071.0"/>
<path d="M449.7 906.3L656 1048.7"/>
<path d="M449.7 893.5L656 1097.1"/>
<path d="M449.7 909.6L656 1075.7"/>
<path d="M449.7 901.4L656 1103.6"/>
<path d="M449.7 907.8L656 1104.0"/>
<path d="M449.7 905.7L656 1085.8"/>
<path d="M449.7 913.0L656 1089.6"/>
<path d="M449.7 892.5L656 1086.3"/>
<path d="M449.7 903.0L656 1091.4"/>
<path d="M449.7 905.0L656 1092.6"/>
<path d="M449.7 905.2L656 1089.8"/>
<path d="M449.7 887.0L656 1110.0"/>
<path d="M449.7 916.4L656 1095.7"/>
<path d="M449.7 900.6L656 1103.7"/>
<path d="M449.7 890.7L656 1061.7"/>
<path d="M449.7 903.8L656 1074.6"/>
<path d="M449.7 912.4L656 1067.2"/>
<path d="M449.7 889.8L656 1131.8"/>
<path d="M449.7 898.2L656 1068.6"/>
<path d="M449.7 893.3L656 1108.8"/>
<path d="M449.7 909.3L656 1094.0"/>
<path d="M449.7 921.8L656 1098.4"/>
<path d="M449.7 902.7L656 1105.7"/>
<path d="M449.7 924.0L656 1102.6"/>
<path d="M449.7 916.0L656 1065.5"/>
<path d="M449.7 901.1L656 1109.2"/>
<path d="M449.7 899.2L656 1116.9"/>
<path d="M449.7 910.6L656 1108.0"/>
<path d="M449.7 900.3L656 1119.8"/>
<path d="M449.7 900.3L656 1096.8"/>
<path d="M449.7 898.6L656 1113.3"/>
<path d="M449.7 915.5L656 1087.6"/>
<path d="M449.7 888.2L656 1104.7"/>
<path d="M449.7 907.6L656 1114.0"/>
<path d="M449.7 912.9L656 1089.2"/>
<path d="M449.7 913.8L656 1099.0"/>
<path d="M449.7 905.6L656 1093.4"/>
<path d="M449.7 899.9L656 1108.9"/>
<path d="M449.7 889.6L656 1087.6"/>
<path d="M449.7 903.1L656 1064.2"/>
<path d="M449.7 897.5L656 1056.1"/>
<path d="M449.7 894.3L656 1109.3"/>
<path d="M449.7 910.2L656 1088.9"/>
<path d="M449.7 900.1L656 1066.7"/>
<path d="M449.7 926.2L656 1092.4"/>
</g>
<g stroke="#b3d1ff" stroke-width="5.8" stroke-opacity="0.15" fill="none">
<path d="M753.8 894.7L959.7 1150.5"/>
<path d="M753.8 902.1L959.7 1136.3"/>
<path d="M753.8 894.8L959.7 1141.8"/>
<path d="M753.8 891.0L959.7 1115.4"/>
<path d="M753.8 882.4L959.7 1112.2"/>
<path d="M753.8 894.4L959.7 1141.8"/>
<path d="M753.8 908.6L959.7 1131.3"/>
<path d="M753.8 894.9L959.7 1143.8"/>
<path d="M753.8 892.0L959.7 1091.5"/>
<path d="M753.8 902.8L959.7 1114.7"/>
<path d="M753.8 894.4L959.7 1124.4"/>
<path d="M753.8 903.8L959.7 1132.8"/>
<path d="M753.8 880.5L959.7 1158.5"/>
<path d="M753.8 882.9L959.7 1162.7"/>
<path d="M753.8 876.5L959.7 1140.0"/>
<path d="M753.8 901.7L959.7 1106.8"/>
<path d="M753.8 893.3L959.7 1134.5"/>
<path d="M753.8 901.9L959.7 1114.7"/>
<path d="M753.8 899.3L959.7 1172.1"/>
<path d="M753.8 876.8L959.7 1123.2"/>
<path d="M753.8 897.0L959.7 1114.3"/>
<path d="M753.8 878.3L959.7 1172.1"/>
<path d="M753.8 902.2L959.7 1149.3"/>
<path d="M753.8 903.5L959.7 1140.2"/>
<path d="M753.8 883.8L959.7 1085.7"/>
<path d="M753.8 897.6L959.7 1105.0"/>
<path d="M753.8 892.8L959.7 1140.1"/>
<path d="M753.8 879.3L959.7 1133.3"/>
<path d="M753.8 910.5L959.7 1136.8"/>
<path d="M753.8 875.5L959.7 1138.7"/>
<path d="M753.8 892.4L959.7 1144.5"/>
<path d="M753.8 900.1L959.7 1125.4"/>
<path d="M753.8 889.9L959.7 1152.6"/>
<path d="M753.8 877.4L959.7 1166.8"/>
<path d="M753.8 895.8L959.7 1118.6"/>
<path d="M753.8 886.2L959.7 1140.8"/>
<path d="M753.8 876.9L959.7 1090.6"/>
<path d="M753.8 896.1L959.7 1160.8"/>
<path d="M753.8 890.5L959.7 1133.6"/>
<path d="M753.8 891.8L959.7 1110.3"/>
<path d="M753.8 896.1L959.7 1146.3"/>
<path d="M753.8 892.2L959.7 1150.6"/>
<path d="M753.8 881.2L959.7 1143.7"/>
<path d="M753.8 884.0L959.7 1125.5"/>
<path d="M753.8 894.5L959.7 1132.7"/>
<path d="M753.8 900.5L959.7 1139.5"/>
<path d="M753.8 879.4L959.7 1167.0"/>
<path d="M753.8 875.3L959.7 1139.3"/>
<path d="M753.8 894.6L959.7 1126.7"/>
<path d="M753.8 896.5L959.7 1127.6"/>
<path d="M753.8 881.1L959.7 1154.5"/>
<path d="M753.8 890.6L959.7 1110.7"/>
<path d="M753.8 891.7L959.7 1129.2"/>
<path d="M753.8 894.5L959.7 1115.3"/>
<path d="M753.8 892.8L959.7 1124.9"/>
<path d="M753.8 907.5L959.7 1111.4"/>
<path d="M753.8 904.1L959.7 1119.7"/>
<path d="M753.8 902.6L959.7 1172.3"/>
<path d="M753.8 887.1L959.7 1135.7"/>
<path d="M753.8 881.8L959.7 1121.0"/>
<path d="M753.8 885.3L959.7 1135.8"/>
<path d="M753.8 900.5L959.7 1142.9"/>
<path d="M753.8 886.0L959.7 1136.5"/>
<path d="M753.8 876.1L959.7 1152.4"/>
<path d="M753.8 888.6L959.7 1108.5"/>
<path d="M753.8 883.6L959.7 1147.2"/>
<path d="M753.8 892.0L959.7 1143.1"/>
<path d="M753.8 886.5L959.7 1136.3"/>
<path d="M753.8 888.6L959.7 1099.1"/>
<path d="M753.8 889.4L959.7 1128.2"/>
<path d="M753.8 884.0L959.7 1151.5"/>
<path d="M753.8 912.8L959.7 1146.0"/>
<path d="M753.8 891.4L959.7 1104.9"/>
<path d="M753.8 889.1L959.7 1117.7"/>
<path d="M753.8 892.6L959.7 1154.4"/>
<path d="M753.8 890.5L959.7 1100.1"/>
<path d="M753.8 904.8L959.7 1122.1"/>
<path d="M753.8 904.9L959.7 1102.1"/>
<path d="M753.8 878.6L959.7 1141.1"/>
<path d="M753.8 899.3L959.7 1107.7"/>
<path d="M753.8 874.8L959.7 1177.3"/>
<path d="M753.8 898.1L959.7 1104.9"/>
<path d="M753.8 873.3L959.7 1104.4"/>
<path d="M753.8 892.7L959.7 1111.7"/>
<path d="M753.8 894.7L959.7 1116.1"/>
<path d="M753.8 873.7L959.7 1180.0"/>
<path d="M753.8 896.0L959.7 1111.9"/>
<path d="M753.8 887.5L959.7 1160.3"/>
<path d="M753.8 899.3L959.7 1097.9"/>
<path d="M753.8 905.9L959.7 1107.0"/>
<path d="M753.8 896.9L959.7 1100.3"/>
<path d="M753.8 884.2L959.7 1151.4"/>
<path d="M753.8 878.8L959.7 1139.7"/>
<path d="M753.8 895.2L959.7 1113.1"/>
<path d="M753.8 905.8L959.7 1134.5"/>
<path d="M753.8 889.6L959.7 1152.6"/>
<path d="M753.8 904.9L959.7 1147.3"/>
<path d="M753.8 889.8L959.7 1148.1"/>
<path d="M753.8 895.0L959.7 1104.0"/>
<path d="M753.8 887.4L959.7 1175.7"/>
<path d="M753.8 882.9L959.7 1145.8"/>
<path d="M753.8 908.3L959.7 1110.6"/>
<path d="M753.8 890.9L959.7 1114.2"/>
<path d="M753.8 896.2L959.7 1100.5"/>
<path d="M753.8 895.6L959.7 1109.3"/>
<path d="M753.8 894.4L959.7 1091.2"/>
<path d="M753.8 879.9L959.7 1157.1"/>
<path d="M753.8 897.0L959.7 1158.4"/>
<path d="M753.8 882.6L959.7 1154.4"/>
<path d="M753.8 901.4L959.7 1119.6"/>
<path d="M753.8 887.1L959.7 1091.5"/>
<path d="M753.8 895.7L959.7 1166.5"/>
<path d="M753.8 878.2L959.7 1162.4"/>
<path d="M753.8 898.5L959.7 1145.2"/>
<path d="M753.8 880.1L959.7 1134.7"/>
<path d="M753.8 893.5L959.7 1164.7"/>
<path d="M753.8 881.4L959.7 1124.9"/>
<path d="M753.8 883.1L959.7 1153.4"/>
<path d="M753.8 874.8L959.7 1136.2"/>
<path d="M753.8 877.6L959.7 1131.4"/>
<path d="M753.8 898.6L959.7 1113.3"/>
<path d="M753.8 897.9L959.7 1115.2"/>
<path d="M753.8 890.4L959.7 1126.9"/>
<path d="M753.8 881.9L959.7 1144.7"/>
<path d="M753.8 897.5L959.7 1108.6"/>
<path d="M753.8 897.8L959.7 1127.4"/>
<path d="M753.8 886.5L959.7 1136.0"/>
<path d="M753.8 899.2L959.7 1140.1"/>
<path d="M753.8 905.9L959.7 1125.4"/>
<path d="M753.8 893.0L959.7 1096.5"/>
<path d="M753.8 885.4L959.7 1145.9"/>
<path d="M753.8 879.6L959.7 1117.4"/>
<path d="M753.8 909.3L959.7 1115.8"/>
<path d="M753.8 879.6L959.7 1092.1"/>
<path d="M753.8 882.0L959.7 1184.5"/>
<path d="M753.8 890.6L959.7 1142.8"/>
<path d="M753.8 897.6L959.7 1115.0"/>
<path d="M753.8 894.3L959.7 1128.4"/>
<path d="M753.8 887.5L959.7 1153.5"/>
<path d="M753.8 882.4L959.7 1119.3"/>
<path d="M753.8 884.2L959.7 1159.9"/>
<path d="M753.8 885.9L959.7 1171.2"/>
<path d="M753.8 877.3L959.7 1117.7"/>
<path d="M753.8 881.5L959.7 1137.6"/>
<path d="M753.8 897.8L959.7 1104.1"/>
<path d="M753.8 885.5L959.7 1163.1"/>
<path d="M753.8 885.8L959.7 1135.1"/>
<path d="M753.8 897.2L959.7 1104.9"/>
<path d="M753.8 903.2L959.7 1117.4"/>
<path d="M753.8 898.6L959.7 1118.3"/>
<path d="M753.8 893.5L959.7 1153.5"/>
<path d="M753.8 893.0L959.7 1089.7"/>
<path d="M753.8 887.9L959.7 1123.4"/>
<path d="M753.8 888.9L959.7 1134.8"/>
<path d="M753.8 874.4L959.7 1177.5"/>
<path d="M753.8 882.1L959.7 1162.5"/>
<path d="M753.8 887.0L959.7 1124.6"/>
<path d="M753.8 889.5L959.7 1123.1"/>
<path d="M753.8 896.3L959.7 1151.9"/>
<path d="M753.8 909.0L959.7 1157.0"/>
<path d="M753.8 878.4L959.7 1151.7"/>
<path d="M753.8 895.7L959.7 1124.7"/>
<path d="M753.8 893.8L959.7 1128.1"/>
<path d="M753.8 879.2L959.7 1119.5"/>
<path d="M753.8 900.4L959.7 1122.1"/>
<path d="M753.8 904.7L959.7 1111.0"/>
<path d="M753.8 885.0L959.7 1135.9"/>
<path d="M753.8 891.9L959.7 1149.4"/>
<path d="M753.8 885.5L959.7 1150.3"/>
<path d="M753.8 894.5L959.7 1108.7"/>
<path d="M753.8 889.1L959.7 1127.0"/>
<path d="M753.8 901.0L959.7 1148.9"/>
<path d="M753.8 897.7L959.7 1114.0"/>
<path d="M753.8 898.1L959.7 1128.4"/>
<path d="M753.8 884.9L959.7 1149.4"/>
<path d="M753.8 883.1L959.7 1128.5"/>
<path d="M753.8 880.4L959.7 1107.6"/>
<path d="M753.8 894.4L959.7 1094.0"/>
<path d="M753.8 884.3L959.7 1126.2"/>
<path d="M753.8 895.5L959.7 1112.5"/>
<path d="M753.8 897.9L959.7 1107.8"/>
<path d="M753.8 882.9L959.7 1117.4"/>
<path d="M753.8 885.8L959.7 1117.6"/>
<path d="M753.8 876.6L959.7 1123.3"/>
<path d="M753.8 882.3L959.7 1157.5"/>
<path d="M753.8 880.2L959.7 1143.6"/>
<path d="M753.8 881.6L959.7 1153.8"/>
<path d="M753.8 889.4L959.7 1118.5"/>
<path d="M753.8 902.3L959.7 1153.6"/>
<path d="M753.8 906.1L959.7 1139.7"/>
<path d="M753.8 891.4L959.7 1115.1"/>
<path d="M753.8 886.0L959.7 1121.2"/>
<path d="M753.8 895.9L959.7 1117.4"/>
<path d="M753.8 893.0L959.7 1132.5"/>
<path d="M753.8 889.6L959.7 1116.7"/>
<path d="M753.8 880.2L959.7 1134.1"/>
<path d="M753.8 874.7L959.7 1114.1"/>
<path d="M753.8 884.4L959.7 1172.6"/>
<path d="M753.8 892.3L959.7 1109.5"/>
<path d="M753.8 908.3L959.7 1078.9"/>
<path d="M753.8 902.3L959.7 1122.7"/>
<path d="M753.8 900.9L959.7 1137.7"/>
<path d="M753.8 894.4L959.7 1115.5"/>
<path d="M753.8 899.7L959.7 1111.9"/>
<path d="M753.8 894.4L959.7 1137.2"/>
<path d="M753.8 884.8L959.7 1084.2"/>
<path d="M753.8 886.3L959.7 1116.4"/>
<path d="M753.8 879.0L959.7 1120.3"/>
<path d="M753.8 890.7L959.7 1162.5"/>
<path d="M753.8 891.7L959.7 1134.2"/>
<path d="M753.8 901.6L959.7 1132.5"/>
<path d="M753.8 888.6L959.7 1117.4"/>
<path d="M753.8 878.7L959.7 1157.6"/>
<path d="M753.8 890.0L959.7 1156.1"/>
<path d="M753.8 882.9L959.7 1122.5"/>
<path d="M753.8 895.0L959.7 1158.5"/>
<path d="M753.8 889.0L959.7 1118.3"/>
<path d="M753.8 896.1L959.7 1097.9"/>
<path d="M753.8 902.6L959.7 1095.1"/>
<path d="M753.8 875.1L959.7 1141.6"/>
</g>
<g stroke="#a0a0c4" stroke-width="6" fill="#a0a0c4">
<path d="M187 746V762.6M197.2 745V761M207.4 762.6V779.6M217.4 755V771.6M227.6 749V765.6M237.8 777V796M248 783V802.6M258 799V819.6M268.2 785V805.4M278.2 806V829.2M288.4 807V830.6M298.4 821V847.4M308.6 799.6V825M318.8 802.4V829.6M329 808V836.6M339 796.4V825M349.2 812V842.4M359.2 838.4V872.6" fill="none"/>
<g stroke="none">
<circle cx="187" cy="754.4" r="6.4"/>
<circle cx="197.2" cy="753" r="6.4"/>
<circle cx="207.4" cy="771" r="6.4"/>
<circle cx="217.4" cy="763" r="6.4"/>
<circle cx="227.6" cy="757.2" r="6.4"/>
<circle cx="237.8" cy="786.4" r="6.4"/>
<circle cx="248" cy="792.6" r="6.4"/>
<circle cx="258" cy="809.4" r="6.4"/>
<circle cx="268.2" cy="795.2" r="6.4"/>
<circle cx="278.2" cy="817.6" r="6.4"/>
<circle cx="288.4" cy="818.6" r="6.4"/>
<circle cx="298.4" cy="834" r="6.4"/>
<circle cx="308.6" cy="812.4" r="6.4"/>
<circle cx="318.8" cy="816" r="6.4"/>
<circle cx="329" cy="822.4" r="6.4"/>
<circle cx="339" cy="810.6" r="6.4"/>
<circle cx="349.2" cy="827" r="6.4"/>
<circle cx="359.2" cy="855.4" r="6.4"/>
</g></g>
<g stroke="#ef9090" stroke-width="6" fill="#ef9090">
<path d="M490.46 739.36V754.76M500.8 759.6V776.54M510.92 762.9V780.5M521.04 762.9V780.5M531.16 775.44V793.7M541.28 780.5V799.64M551.4 784.9V804.26M561.52 795.46V816.14M571.64 794.8V815.7M581.76 814.16V837.26M591.88 803.16V826.26M602 798.1V822.3M612.12 813.06V839.46M622.24 812.84V840.34M632.36 816.14V845.4M642.48 825.16V856.4M652.6 822.96V854.2M662.94 820.1V851.34" fill="none"/>
<g stroke="none">
<circle cx="490.46" cy="747.06" r="6.4"/>
<circle cx="500.8" cy="767.96" r="6.4"/>
<circle cx="510.92" cy="771.7" r="6.4"/>
<circle cx="521.04" cy="771.7" r="6.4"/>
<circle cx="531.16" cy="784.46" r="6.4"/>
<circle cx="541.28" cy="789.96" r="6.4"/>
<circle cx="551.4" cy="794.36" r="6.4"/>
<circle cx="561.52" cy="805.8" r="6.4"/>
<circle cx="571.64" cy="805.14" r="6.4"/>
<circle cx="581.76" cy="825.6" r="6.4"/>
<circle cx="591.88" cy="814.6" r="6.4"/>
<circle cx="602" cy="810.2" r="6.4"/>
<circle cx="612.12" cy="826.26" r="6.4"/>
<circle cx="622.24" cy="826.7" r="6.4"/>
<circle cx="632.36" cy="830.66" r="6.4"/>
<circle cx="642.48" cy="840.56" r="6.4"/>
<circle cx="652.6" cy="838.8" r="6.4"/>
<circle cx="662.94" cy="835.5" r="6.4"/>
</g></g>
<g stroke="#ff3300" stroke-width="6" fill="#ff3300">
<path d="M376.2 880V918.6M401.4 892.4V930M426.8 914V950.6M452 896.25V927.5M477.25 900V929.5M502.5 917.5V948M527.75 970V1007M553 971.75V1010.75M578.25 995V1041.75M603.75 1050V1114.5M629 1049.25V1120M654.25 1055.75V1133.75" fill="none"/>
<g stroke="none">
<circle cx="376.2" cy="899" r="6.4"/>
<circle cx="401.4" cy="911" r="6.4"/>
<circle cx="426.8" cy="931.6" r="6.4"/>
<circle cx="452" cy="911.75" r="6.4"/>
<circle cx="477.25" cy="914.5" r="6.4"/>
<circle cx="502.5" cy="932.5" r="6.4"/>
<circle cx="527.75" cy="988.25" r="6.4"/>
<circle cx="553" cy="990.5" r="6.4"/>
<circle cx="578.25" cy="1017.5" r="6.4"/>
<circle cx="603.75" cy="1080.75" r="6.4"/>
<circle cx="629" cy="1082" r="6.4"/>
<circle cx="654.25" cy="1092" r="6.4"/>
</g></g>
<g stroke="#0066ff" stroke-width="6" fill="#0066ff">
<path d="M679.38 889.3V930.1M704.88 894.4V932.48M730.38 895.08V930.1M755.54 869.92V898.48M781.04 915.48V947.1M806.2 943.02V977.02M831.7 968.52V1005.58M856.86 982.8V1023.6M882.02 1031.42V1084.8M907.52 1050.8V1114.72M932.68 1050.12V1121.52M958.18 1068.48V1150.08" fill="none"/>
<g stroke="none">
<circle cx="679.38" cy="909.02" r="6.4"/>
<circle cx="704.88" cy="913.1" r="6.4"/>
<circle cx="730.38" cy="911.74" r="6.4"/>
<circle cx="755.54" cy="884.2" r="6.4"/>
<circle cx="781.04" cy="931.12" r="6.4"/>
<circle cx="806.2" cy="959.68" r="6.4"/>
<circle cx="831.7" cy="986.88" r="6.4"/>
<circle cx="856.86" cy="1003.2" r="6.4"/>
<circle cx="882.02" cy="1056.92" r="6.4"/>
<circle cx="907.52" cy="1081.4" r="6.4"/>
<circle cx="932.68" cy="1083.44" r="6.4"/>
<circle cx="958.18" cy="1106.56" r="6.4"/>
</g></g>
<path d="M207.5 1204v14.9M359.3 1204v14.9M511.1 1204v14.9M662.9 1204v14.9M814.7 1204v14.9M966.5 1204v14.9M148.8 1113h-14.9" stroke="#000" stroke-width="3.1" fill="none"/>
<path d="M156.9 1204v8.7M258.1 1204v8.7M308.7 1204v8.7M409.9 1204v8.7M460.5 1204v8.7M561.7 1204v8.7M612.3 1204v8.7M713.5 1204v8.7M764.1 1204v8.7M865.3 1204v8.7M915.9 1204v8.7M148.8 797.04h-8.7M148.8 869.32h-8.7M148.8 966.09h-8.7" stroke="#000" stroke-width="2.3" fill="none"/>
<rect x="148.8" y="717" width="847.9" height="487" fill="none" stroke="#000" stroke-width="3.3"/>
<g font-size="38" fill="#000">
<text x="207.5" y="1262.6" text-anchor="middle">−270</text>
<text x="359.3" y="1262.6" text-anchor="middle">−180</text>
<text x="511.1" y="1262.6" text-anchor="middle">−90</text>
<text x="662.9" y="1262.6" text-anchor="middle">0</text>
<text x="814.7" y="1262.6" text-anchor="middle">90</text>
<text x="966.5" y="1262.6" text-anchor="middle">180</text>
<text x="126.3" y="811.74" text-anchor="end">90</text>
<text x="126.3" y="884.02" text-anchor="end">70</text>
<text x="126.3" y="980.79" text-anchor="end">50</text>
<text x="119.8" y="1127.7" text-anchor="end">30</text>
<text transform="translate(46 960.5) rotate(-90)" text-anchor="middle">Radius (au)</text>
</g>
<text x="572.75" y="691.8" text-anchor="middle" font-size="45.6">IM Lup</text>
<rect x="167.7" y="951.5" width="208.2" height="233.7" rx="6" ry="6" fill="#fff" fill-opacity="0.8" stroke="#d5d5d5" stroke-width="4.6"/>
<path d="M220.5 963.1V1001.1" stroke="#0066ff" stroke-width="6" fill="none"/>
<circle cx="220.5" cy="982.1" r="6.4" fill="#0066ff"/>
<text x="288.9" y="995.7" font-size="38">S1a</text>
<path d="M220.5 1018.7V1056.7" stroke="#ef9090" stroke-width="6" fill="none"/>
<circle cx="220.5" cy="1037.7" r="6.4" fill="#ef9090"/>
<text x="288.9" y="1051.3" font-size="38">S1b</text>
<path d="M220.5 1074.3V1112.3" stroke="#ff3300" stroke-width="6" fill="none"/>
<circle cx="220.5" cy="1093.3" r="6.4" fill="#ff3300"/>
<text x="288.9" y="1106.9" font-size="38">S2a</text>
<path d="M220.5 1129.9V1167.9" stroke="#a0a0c4" stroke-width="6" fill="none"/>
<circle cx="220.5" cy="1148.9" r="6.4" fill="#a0a0c4"/>
<text x="288.9" y="1162.5" font-size="38">S2b</text>
</g>
<g id="p3">
<g stroke="#b3d1ff" stroke-width="5.8" stroke-opacity="0.15" fill="none">
<path d="M185 1729.9L609.8 1415.3"/>
<path d="M185 1763.4L609.8 1422.0"/>
<path d="M185 1761.7L609.8 1410.5"/>
<path d="M185 1748.9L609.8 1409.6"/>
<path d="M185 1724.4L609.8 1410.5"/>
<path d="M185 1758.2L609.8 1412.4"/>
<path d="M185 1739.3L609.8 1404.3"/>
<path d="M185 1742.6L609.8 1407.6"/>
<path d="M185 1744.5L609.8 1415.7"/>
<path d="M185 1710.0L609.8 1414.9"/>
<path d="M185 1722.2L609.8 1407.1"/>
<path d="M185 1725.5L609.8 1422.6"/>
<path d="M185 1754.0L609.8 1414.8"/>
<path d="M185 1732.9L609.8 1402.0"/>
<path d="M185 1738.3L609.8 1414.2"/>
<path d="M185 1742.9L609.8 1417.5"/>
<path d="M185 1738.7L609.8 1426.6"/>
<path d="M185 1753.8L609.8 1426.5"/>
<path d="M185 1747.7L609.8 1409.8"/>
<path d="M185 1731.4L609.8 1419.6"/>
<path d="M185 1759.6L609.8 1411.5"/>
<path d="M185 1750.1L609.8 1409.2"/>
<path d="M185 1737.7L609.8 1410.4"/>
<path d="M185 1716.0L609.8 1407.1"/>
<path d="M185 1744.6L609.8 1412.9"/>
<path d="M185 1760.2L609.8 1415.2"/>
<path d="M185 1750.3L609.8 1411.7"/>
<path d="M185 1710.2L609.8 1416.0"/>
<path d="M185 1730.7L609.8 1417.2"/>
<path d="M185 1739.7L609.8 1409.8"/>
<path d="M185 1735.9L609.8 1410.5"/>
<path d="M185 1714.7L609.8 1402.6"/>
<path d="M185 1762.0L609.8 1413.4"/>
<path d="M185 1737.3L609.8 1410.0"/>
<path d="M185 1738.4L609.8 1416.6"/>
<path d="M185 1743.9L609.8 1406.7"/>
<path d="M185 1708.6L609.8 1416.7"/>
<path d="M185 1764.5L609.8 1417.0"/>
<path d="M185 1747.8L609.8 1406.8"/>
<path d="M185 1726.2L609.8 1414.4"/>
<path d="M185 1737.7L609.8 1403.7"/>
<path d="M185 1768.5L609.8 1402.0"/>
<path d="M185 1735.7L609.8 1394.2"/>
<path d="M185 1769.3L609.8 1408.0"/>
<path d="M185 1742.7L609.8 1414.3"/>
<path d="M185 1731.2L609.8 1408.4"/>
<path d="M185 1748.2L609.8 1405.0"/>
<path d="M185 1748.6L609.8 1420.9"/>
<path d="M185 1755.2L609.8 1421.8"/>
<path d="M185 1759.8L609.8 1423.8"/>
<path d="M185 1748.2L609.8 1414.8"/>
<path d="M185 1727.5L609.8 1412.3"/>
<path d="M185 1733.0L609.8 1412.5"/>
<path d="M185 1728.3L609.8 1416.1"/>
<path d="M185 1732.2L609.8 1417.7"/>
<path d="M185 1753.2L609.8 1405.2"/>
<path d="M185 1739.4L609.8 1408.3"/>
<path d="M185 1750.4L609.8 1406.3"/>
<path d="M185 1756.7L609.8 1419.5"/>
<path d="M185 1776.1L609.8 1419.2"/>
<path d="M185 1742.2L609.8 1415.0"/>
<path d="M185 1744.4L609.8 1414.0"/>
<path d="M185 1758.4L609.8 1394.9"/>
<path d="M185 1718.8L609.8 1412.1"/>
<path d="M185 1750.5L609.8 1407.4"/>
<path d="M185 1740.9L609.8 1420.9"/>
<path d="M185 1753.9L609.8 1410.0"/>
<path d="M185 1738.8L609.8 1400.9"/>
<path d="M185 1751.0L609.8 1411.9"/>
<path d="M185 1729.3L609.8 1417.2"/>
<path d="M185 1738.1L609.8 1409.7"/>
<path d="M185 1718.8L609.8 1421.4"/>
<path d="M185 1732.0L609.8 1415.3"/>
<path d="M185 1746.8L609.8 1406.9"/>
<path d="M185 1742.3L609.8 1409.9"/>
<path d="M185 1739.4L609.8 1413.5"/>
<path d="M185 1733.6L609.8 1418.0"/>
<path d="M185 1744.8L609.8 1402.3"/>
<path d="M185 1749.2L609.8 1407.8"/>
<path d="M185 1750.0L609.8 1392.5"/>
<path d="M185 1748.1L609.8 1393.4"/>
<path d="M185 1736.1L609.8 1417.3"/>
<path d="M185 1758.4L609.8 1404.2"/>
<path d="M185 1725.6L609.8 1412.5"/>
<path d="M185 1748.7L609.8 1409.9"/>
<path d="M185 1732.3L609.8 1405.6"/>
<path d="M185 1736.5L609.8 1424.8"/>
<path d="M185 1742.7L609.8 1408.5"/>
<path d="M185 1738.9L609.8 1404.4"/>
<path d="M185 1722.7L609.8 1415.0"/>
<path d="M185 1763.3L609.8 1413.4"/>
<path d="M185 1722.5L609.8 1425.8"/>
<path d="M185 1747.3L609.8 1426.1"/>
<path d="M185 1741.3L609.8 1401.4"/>
<path d="M185 1746.9L609.8 1410.2"/>
<path d="M185 1727.0L609.8 1407.6"/>
<path d="M185 1737.3L609.8 1405.5"/>
<path d="M185 1752.8L609.8 1413.2"/>
<path d="M185 1736.6L609.8 1409.7"/>
<path d="M185 1756.9L609.8 1413.5"/>
<path d="M185 1725.7L609.8 1415.8"/>
<path d="M185 1769.6L609.8 1411.5"/>
<path d="M185 1730.8L609.8 1425.2"/>
<path d="M185 1781.2L609.8 1409.1"/>
<path d="M185 1709.4L609.8 1404.2"/>
<path d="M185 1772.3L609.8 1407.7"/>
<path d="M185 1754.9L609.8 1415.3"/>
<path d="M185 1747.1L609.8 1425.2"/>
<path d="M185 1747.8L609.8 1416.8"/>
<path d="M185 1749.8L609.8 1413.9"/>
<path d="M185 1728.5L609.8 1404.7"/>
<path d="M185 1761.7L609.8 1400.8"/>
<path d="M185 1747.7L609.8 1404.0"/>
<path d="M185 1759.6L609.8 1410.9"/>
<path d="M185 1755.5L609.8 1405.6"/>
<path d="M185 1742.9L609.8 1394.7"/>
<path d="M185 1757.4L609.8 1414.2"/>
<path d="M185 1745.0L609.8 1412.7"/>
<path d="M185 1739.1L609.8 1412.4"/>
<path d="M185 1773.3L609.8 1404.5"/>
<path d="M185 1737.5L609.8 1418.6"/>
<path d="M185 1748.3L609.8 1407.2"/>
<path d="M185 1769.6L609.8 1422.9"/>
<path d="M185 1740.0L609.8 1427.2"/>
<path d="M185 1723.9L609.8 1426.7"/>
<path d="M185 1720.4L609.8 1417.9"/>
<path d="M185 1742.6L609.8 1409.7"/>
<path d="M185 1754.3L609.8 1403.7"/>
<path d="M185 1733.4L609.8 1404.6"/>
<path d="M185 1767.4L609.8 1405.2"/>
<path d="M185 1750.1L609.8 1409.9"/>
<path d="M185 1760.5L609.8 1402.4"/>
<path d="M185 1731.6L609.8 1408.6"/>
<path d="M185 1747.5L609.8 1405.9"/>
<path d="M185 1751.7L609.8 1415.9"/>
<path d="M185 1760.5L609.8 1414.9"/>
<path d="M185 1765.9L609.8 1407.3"/>
<path d="M185 1737.1L609.8 1407.7"/>
<path d="M185 1734.3L609.8 1402.9"/>
<path d="M185 1750.7L609.8 1412.5"/>
<path d="M185 1713.0L609.8 1414.8"/>
<path d="M185 1733.7L609.8 1406.3"/>
<path d="M185 1740.5L609.8 1422.2"/>
<path d="M185 1746.3L609.8 1396.3"/>
<path d="M185 1749.5L609.8 1404.8"/>
<path d="M185 1769.4L609.8 1405.7"/>
<path d="M185 1743.4L609.8 1410.7"/>
<path d="M185 1732.0L609.8 1410.3"/>
<path d="M185 1742.8L609.8 1429.7"/>
<path d="M185 1746.3L609.8 1416.1"/>
<path d="M185 1746.2L609.8 1413.6"/>
<path d="M185 1749.8L609.8 1422.9"/>
<path d="M185 1735.1L609.8 1406.6"/>
<path d="M185 1757.6L609.8 1404.5"/>
<path d="M185 1759.2L609.8 1419.4"/>
<path d="M185 1736.5L609.8 1417.6"/>
<path d="M185 1737.7L609.8 1419.7"/>
<path d="M185 1752.5L609.8 1420.9"/>
<path d="M185 1757.2L609.8 1403.1"/>
<path d="M185 1766.7L609.8 1410.3"/>
<path d="M185 1761.0L609.8 1411.3"/>
<path d="M185 1759.0L609.8 1401.6"/>
<path d="M185 1765.1L609.8 1402.6"/>
<path d="M185 1742.8L609.8 1416.4"/>
<path d="M185 1722.4L609.8 1417.9"/>
<path d="M185 1745.5L609.8 1418.8"/>
<path d="M185 1743.8L609.8 1404.8"/>
<path d="M185 1728.8L609.8 1407.8"/>
<path d="M185 1747.1L609.8 1410.9"/>
<path d="M185 1754.1L609.8 1423.5"/>
<path d="M185 1740.7L609.8 1409.3"/>
<path d="M185 1750.8L609.8 1415.3"/>
<path d="M185 1712.8L609.8 1410.8"/>
<path d="M185 1746.1L609.8 1416.9"/>
<path d="M185 1737.8L609.8 1405.1"/>
<path d="M185 1775.8L609.8 1420.1"/>
<path d="M185 1734.7L609.8 1410.2"/>
<path d="M185 1744.1L609.8 1414.8"/>
<path d="M185 1729.9L609.8 1402.7"/>
<path d="M185 1748.8L609.8 1421.2"/>
<path d="M185 1739.7L609.8 1430.0"/>
<path d="M185 1724.9L609.8 1420.4"/>
<path d="M185 1751.1L609.8 1421.5"/>
<path d="M185 1727.5L609.8 1418.7"/>
<path d="M185 1742.1L609.8 1394.3"/>
<path d="M185 1737.2L609.8 1401.4"/>
<path d="M185 1738.5L609.8 1417.4"/>
<path d="M185 1742.5L609.8 1426.6"/>
<path d="M185 1754.2L609.8 1406.3"/>
<path d="M185 1739.1L609.8 1415.7"/>
<path d="M185 1733.4L609.8 1417.7"/>
<path d="M185 1753.2L609.8 1418.8"/>
<path d="M185 1747.4L609.8 1413.2"/>
<path d="M185 1727.8L609.8 1416.0"/>
<path d="M185 1743.0L609.8 1414.1"/>
<path d="M185 1751.4L609.8 1406.5"/>
<path d="M185 1739.5L609.8 1407.7"/>
<path d="M185 1728.2L609.8 1400.5"/>
<path d="M185 1729.9L609.8 1417.9"/>
<path d="M185 1711.1L609.8 1419.9"/>
<path d="M185 1756.0L609.8 1418.4"/>
<path d="M185 1740.3L609.8 1410.4"/>
<path d="M185 1760.8L609.8 1416.6"/>
<path d="M185 1770.4L609.8 1406.9"/>
<path d="M185 1739.0L609.8 1421.8"/>
<path d="M185 1740.0L609.8 1412.2"/>
<path d="M185 1764.7L609.8 1416.7"/>
<path d="M185 1739.7L609.8 1417.6"/>
<path d="M185 1744.9L609.8 1420.9"/>
<path d="M185 1750.6L609.8 1405.5"/>
<path d="M185 1771.1L609.8 1409.5"/>
<path d="M185 1746.5L609.8 1407.8"/>
<path d="M185 1745.7L609.8 1409.7"/>
<path d="M185 1754.0L609.8 1415.8"/>
<path d="M185 1763.2L609.8 1416.9"/>
<path d="M185 1738.4L609.8 1408.1"/>
<path d="M185 1733.9L609.8 1421.6"/>
<path d="M185 1734.3L609.8 1425.7"/>
<path d="M185 1748.5L609.8 1412.1"/>
<path d="M185 1748.5L609.8 1426.4"/>
</g>
<g stroke="#ffc2b3" stroke-width="5.8" stroke-opacity="0.15" fill="none">
<path d="M535.4 1734.2L959.7 1415.9"/>
<path d="M535.4 1739.5L959.7 1416.6"/>
<path d="M535.4 1759.3L959.7 1400.2"/>
<path d="M535.4 1743.4L959.7 1414.4"/>
<path d="M535.4 1735.2L959.7 1419.1"/>
<path d="M535.4 1748.5L959.7 1442.7"/>
<path d="M535.4 1753.0L959.7 1417.8"/>
<path d="M535.4 1761.5L959.7 1406.5"/>
<path d="M535.4 1739.5L959.7 1425.1"/>
<path d="M535.4 1741.0L959.7 1409.9"/>
<path d="M535.4 1739.8L959.7 1406.4"/>
<path d="M535.4 1765.7L959.7 1428.6"/>
<path d="M535.4 1744.1L959.7 1416.9"/>
<path d="M535.4 1745.6L959.7 1424.1"/>
<path d="M535.4 1748.7L959.7 1426.2"/>
<path d="M535.4 1743.9L959.7 1405.2"/>
<path d="M535.4 1772.4L959.7 1410.4"/>
<path d="M535.4 1765.9L959.7 1412.9"/>
<path d="M535.4 1750.7L959.7 1401.9"/>
<path d="M535.4 1733.9L959.7 1424.3"/>
<path d="M535.4 1757.4L959.7 1415.0"/>
<path d="M535.4 1750.6L959.7 1400.1"/>
<path d="M535.4 1749.1L959.7 1411.8"/>
<path d="M535.4 1733.0L959.7 1424.0"/>
<path d="M535.4 1741.8L959.7 1410.7"/>
<path d="M535.4 1742.5L959.7 1415.4"/>
<path d="M535.4 1744.1L959.7 1419.8"/>
<path d="M535.4 1741.8L959.7 1428.3"/>
<path d="M535.4 1772.1L959.7 1425.2"/>
<path d="M535.4 1743.3L959.7 1412.9"/>
<path d="M535.4 1754.3L959.7 1415.6"/>
<path d="M535.4 1769.0L959.7 1417.9"/>
<path d="M535.4 1755.3L959.7 1411.9"/>
<path d="M535.4 1751.0L959.7 1407.4"/>
<path d="M535.4 1726.1L959.7 1423.4"/>
<path d="M535.4 1731.6L959.7 1414.7"/>
<path d="M535.4 1761.6L959.7 1432.2"/>
<path d="M535.4 1749.2L959.7 1414.2"/>
<path d="M535.4 1760.0L959.7 1426.3"/>
<path d="M535.4 1756.4L959.7 1409.0"/>
<path d="M535.4 1741.1L959.7 1429.5"/>
<path d="M535.4 1732.1L959.7 1421.3"/>
<path d="M535.4 1766.8L959.7 1426.1"/>
<path d="M535.4 1738.8L959.7 1417.0"/>
<path d="M535.4 1745.3L959.7 1408.1"/>
<path d="M535.4 1749.6L959.7 1410.0"/>
<path d="M535.4 1757.6L959.7 1406.8"/>
<path d="M535.4 1739.0L959.7 1413.9"/>
<path d="M535.4 1749.1L959.7 1394.4"/>
<path d="M535.4 1762.7L959.7 1414.3"/>
<path d="M535.4 1750.5L959.7 1430.4"/>
<path d="M535.4 1748.8L959.7 1422.6"/>
<path d="M535.4 1750.6L959.7 1426.6"/>
<path d="M535.4 1758.9L959.7 1428.4"/>
<path d="M535.4 1747.7L959.7 1408.5"/>
<path d="M535.4 1752.6L959.7 1407.3"/>
<path d="M535.4 1748.4L959.7 1415.4"/>
<path d="M535.4 1716.8L959.7 1419.4"/>
<path d="M535.4 1733.6L959.7 1407.8"/>
<path d="M535.4 1722.0L959.7 1426.1"/>
<path d="M535.4 1757.6L959.7 1406.3"/>
<path d="M535.4 1732.9L959.7 1412.4"/>
<path d="M535.4 1732.9L959.7 1425.9"/>
<path d="M535.4 1733.5L959.7 1429.4"/>
<path d="M535.4 1712.6L959.7 1405.5"/>
<path d="M535.4 1760.2L959.7 1412.9"/>
<path d="M535.4 1717.7L959.7 1443.4"/>
<path d="M535.4 1758.0L959.7 1419.9"/>
<path d="M535.4 1760.7L959.7 1415.9"/>
<path d="M535.4 1744.5L959.7 1414.3"/>
<path d="M535.4 1720.7L959.7 1409.8"/>
<path d="M535.4 1753.5L959.7 1426.3"/>
<path d="M535.4 1757.2L959.7 1420.4"/>
<path d="M535.4 1750.3L959.7 1422.5"/>
<path d="M535.4 1779.9L959.7 1414.3"/>
<path d="M535.4 1724.4L959.7 1425.4"/>
<path d="M535.4 1742.3L959.7 1408.1"/>
<path d="M535.4 1728.9L959.7 1427.8"/>
<path d="M535.4 1737.4L959.7 1417.3"/>
<path d="M535.4 1734.6L959.7 1430.7"/>
<path d="M535.4 1741.3L959.7 1414.6"/>
<path d="M535.4 1724.9L959.7 1408.9"/>
<path d="M535.4 1763.6L959.7 1406.2"/>
<path d="M535.4 1762.7L959.7 1421.0"/>
<path d="M535.4 1752.8L959.7 1419.7"/>
<path d="M535.4 1748.0L959.7 1429.4"/>
<path d="M535.4 1749.7L959.7 1404.6"/>
<path d="M535.4 1743.8L959.7 1433.9"/>
<path d="M535.4 1730.7L959.7 1420.4"/>
<path d="M535.4 1747.1L959.7 1429.2"/>
<path d="M535.4 1735.4L959.7 1433.5"/>
<path d="M535.4 1732.3L959.7 1421.8"/>
<path d="M535.4 1731.5L959.7 1422.4"/>
<path d="M535.4 1739.6L959.7 1405.2"/>
<path d="M535.4 1753.3L959.7 1408.4"/>
<path d="M535.4 1759.0L959.7 1392.7"/>
<path d="M535.4 1772.4L959.7 1414.6"/>
<path d="M535.4 1775.2L959.7 1422.5"/>
<path d="M535.4 1749.9L959.7 1416.8"/>
<path d="M535.4 1742.3L959.7 1427.0"/>
<path d="M535.4 1747.3L959.7 1405.2"/>
<path d="M535.4 1746.6L959.7 1424.9"/>
<path d="M535.4 1751.8L959.7 1421.9"/>
<path d="M535.4 1757.4L959.7 1395.1"/>
<path d="M535.4 1753.2L959.7 1433.8"/>
<path d="M535.4 1757.8L959.7 1415.3"/>
<path d="M535.4 1734.0L959.7 1415.8"/>
<path d="M535.4 1778.4L959.7 1411.4"/>
<path d="M535.4 1758.5L959.7 1417.8"/>
<path d="M535.4 1759.8L959.7 1406.5"/>
<path d="M535.4 1721.5L959.7 1419.6"/>
<path d="M535.4 1751.8L959.7 1393.8"/>
<path d="M535.4 1746.3L959.7 1421.5"/>
<path d="M535.4 1746.8L959.7 1415.8"/>
<path d="M535.4 1721.2L959.7 1414.4"/>
<path d="M535.4 1732.3L959.7 1428.7"/>
<path d="M535.4 1752.7L959.7 1423.0"/>
<path d="M535.4 1724.9L959.7 1409.5"/>
<path d="M535.4 1752.3L959.7 1418.0"/>
<path d="M535.4 1764.3L959.7 1410.8"/>
<path d="M535.4 1739.7L959.7 1427.7"/>
<path d="M535.4 1736.3L959.7 1415.9"/>
<path d="M535.4 1766.8L959.7 1431.6"/>
<path d="M535.4 1742.9L959.7 1406.3"/>
<path d="M535.4 1741.0L959.7 1427.8"/>
<path d="M535.4 1773.4L959.7 1419.1"/>
<path d="M535.4 1736.1L959.7 1410.0"/>
<path d="M535.4 1742.5L959.7 1422.9"/>
<path d="M535.4 1763.5L959.7 1429.6"/>
<path d="M535.4 1777.0L959.7 1420.0"/>
<path d="M535.4 1768.1L959.7 1391.8"/>
<path d="M535.4 1731.2L959.7 1423.3"/>
<path d="M535.4 1734.9L959.7 1418.1"/>
<path d="M535.4 1751.9L959.7 1426.1"/>
<path d="M535.4 1752.6L959.7 1420.9"/>
<path d="M535.4 1747.0L959.7 1424.9"/>
<path d="M535.4 1767.6L959.7 1411.9"/>
<path d="M535.4 1755.9L959.7 1420.3"/>
<path d="M535.4 1747.1L959.7 1410.2"/>
<path d="M535.4 1739.3L959.7 1416.1"/>
<path d="M535.4 1756.7L959.7 1422.6"/>
<path d="M535.4 1761.6L959.7 1416.9"/>
<path d="M535.4 1731.6L959.7 1424.2"/>
<path d="M535.4 1718.1L959.7 1431.9"/>
<path d="M535.4 1775.8L959.7 1405.9"/>
<path d="M535.4 1740.8L959.7 1399.0"/>
<path d="M535.4 1745.9L959.7 1415.5"/>
<path d="M535.4 1752.7L959.7 1422.7"/>
<path d="M535.4 1746.6L959.7 1431.0"/>
<path d="M535.4 1763.4L959.7 1413.5"/>
<path d="M535.4 1760.0L959.7 1404.8"/>
<path d="M535.4 1723.0L959.7 1409.8"/>
<path d="M535.4 1775.5L959.7 1405.1"/>
<path d="M535.4 1734.5L959.7 1418.9"/>
<path d="M535.4 1748.0L959.7 1426.6"/>
<path d="M535.4 1767.4L959.7 1414.4"/>
<path d="M535.4 1742.2L959.7 1412.1"/>
<path d="M535.4 1735.6L959.7 1411.5"/>
<path d="M535.4 1741.5L959.7 1421.3"/>
<path d="M535.4 1762.3L959.7 1422.9"/>
<path d="M535.4 1746.6L959.7 1426.6"/>
<path d="M535.4 1734.4L959.7 1436.3"/>
<path d="M535.4 1760.9L959.7 1435.4"/>
<path d="M535.4 1751.6L959.7 1406.5"/>
<path d="M535.4 1777.0L959.7 1413.4"/>
<path d="M535.4 1734.5L959.7 1400.0"/>
<path d="M535.4 1717.3L959.7 1425.8"/>
<path d="M535.4 1757.5L959.7 1412.9"/>
<path d="M535.4 1775.5L959.7 1415.0"/>
<path d="M535.4 1759.8L959.7 1407.2"/>
<path d="M535.4 1735.4L959.7 1409.4"/>
<path d="M535.4 1757.8L959.7 1418.3"/>
<path d="M535.4 1748.8L959.7 1421.7"/>
<path d="M535.4 1749.4L959.7 1421.9"/>
<path d="M535.4 1759.0L959.7 1423.9"/>
<path d="M535.4 1764.4L959.7 1417.3"/>
<path d="M535.4 1737.4L959.7 1408.3"/>
<path d="M535.4 1764.0L959.7 1409.2"/>
<path d="M535.4 1762.3L959.7 1419.8"/>
<path d="M535.4 1735.4L959.7 1422.5"/>
<path d="M535.4 1769.1L959.7 1418.7"/>
<path d="M535.4 1725.0L959.7 1422.7"/>
<path d="M535.4 1744.7L959.7 1421.8"/>
<path d="M535.4 1747.6L959.7 1424.7"/>
<path d="M535.4 1740.1L959.7 1421.0"/>
<path d="M535.4 1764.6L959.7 1422.0"/>
<path d="M535.4 1753.0L959.7 1421.5"/>
<path d="M535.4 1765.6L959.7 1426.7"/>
<path d="M535.4 1758.0L959.7 1400.5"/>
<path d="M535.4 1729.6L959.7 1414.6"/>
<path d="M535.4 1748.9L959.7 1408.1"/>
<path d="M535.4 1724.8L959.7 1420.7"/>
<path d="M535.4 1734.8L959.7 1410.3"/>
<path d="M535.4 1737.2L959.7 1410.4"/>
<path d="M535.4 1751.4L959.7 1426.3"/>
<path d="M535.4 1742.9L959.7 1409.7"/>
<path d="M535.4 1757.6L959.7 1409.9"/>
<path d="M535.4 1744.9L959.7 1414.7"/>
<path d="M535.4 1739.5L959.7 1437.9"/>
<path d="M535.4 1758.0L959.7 1429.5"/>
<path d="M535.4 1768.8L959.7 1418.1"/>
<path d="M535.4 1717.8L959.7 1428.9"/>
<path d="M535.4 1760.3L959.7 1401.9"/>
<path d="M535.4 1736.7L959.7 1432.4"/>
<path d="M535.4 1758.3L959.7 1426.6"/>
<path d="M535.4 1735.5L959.7 1427.3"/>
<path d="M535.4 1746.9L959.7 1425.4"/>
<path d="M535.4 1726.8L959.7 1419.6"/>
<path d="M535.4 1714.3L959.7 1413.8"/>
<path d="M535.4 1740.5L959.7 1417.6"/>
<path d="M535.4 1740.3L959.7 1413.0"/>
<path d="M535.4 1755.8L959.7 1415.6"/>
<path d="M535.4 1726.8L959.7 1425.2"/>
<path d="M535.4 1766.4L959.7 1413.8"/>
<path d="M535.4 1729.6L959.7 1432.6"/>
<path d="M535.4 1756.1L959.7 1396.4"/>
<path d="M535.4 1747.1L959.7 1413.6"/>
<path d="M535.4 1783.1L959.7 1412.7"/>
<path d="M535.4 1728.3L959.7 1426.9"/>
<path d="M535.4 1765.4L959.7 1397.4"/>
<path d="M535.4 1696.5L959.7 1424"/>
<path d="M535.4 1698.5L959.7 1421"/>
</g>
<g stroke="#0066ff" stroke-width="6" fill="#0066ff">
<path d="M186.9 1747.5V1839M222 1694.1V1768.5M257.1 1664.1V1733.4M292.2 1643.1V1712.4M327.3 1599.9V1669.5M362.4 1559.1V1629M397.2 1572.6V1652.1M432.4 1566V1641M449.8 1473V1527M467.2 1452.9V1500M484.9 1464.6V1510.5M502.3 1452.9V1494.6M520 1484.1V1527.6M537.4 1424.4V1460.1M554.8 1427.4V1461.9M572.2 1442.1V1477.5M589.9 1428.9V1463.4M607.6 1418.4V1452.6" fill="none"/>
<g stroke="none">
<circle cx="186.9" cy="1790.4" r="8.5"/>
<circle cx="222" cy="1729.8" r="8.5"/>
<circle cx="257.1" cy="1697.1" r="8.5"/>
<circle cx="292.2" cy="1676.1" r="8.5"/>
<circle cx="327.3" cy="1632.9" r="8.5"/>
<circle cx="362.4" cy="1592.1" r="8.5"/>
<circle cx="397.2" cy="1610.4" r="8.5"/>
<circle cx="432.4" cy="1601.4" r="8.5"/>
<circle cx="449.8" cy="1498.8" r="8.5"/>
<circle cx="467.2" cy="1475.4" r="8.5"/>
<circle cx="484.9" cy="1486.5" r="8.5"/>
<circle cx="502.3" cy="1473.6" r="8.5"/>
<circle cx="520" cy="1504.8" r="8.5"/>
<circle cx="537.4" cy="1442.1" r="8.5"/>
<circle cx="554.8" cy="1444.2" r="8.5"/>
<circle cx="572.2" cy="1458.9" r="8.5"/>
<circle cx="589.9" cy="1445.4" r="8.5"/>
<circle cx="607.6" cy="1435.2" r="8.5"/>
</g></g>
<g stroke="#ff3300" stroke-width="6" fill="#ff3300">
<path d="M537.5 1717.5V1800.9M572.6 1708.5V1785.9M607.4 1695V1770.9M642.5 1650V1722M677.6 1581.9V1647.9M712.6 1560V1629.6M747.7 1557.9V1633.5M782.8 1574.4V1651.5M800.2 1458V1509.6M817.6 1462.5V1511.4M835.3 1464V1509.9M852.7 1467.9V1511.4M870.4 1455.9V1495.5M887.8 1467.6V1507.5M905.5 1428V1462.5M922.9 1427.1V1461M940.3 1425V1459.2M958 1406.1V1438.8" fill="none"/>
<g stroke="none">
<circle cx="537.5" cy="1757.1" r="8.5"/>
<circle cx="572.6" cy="1745.1" r="8.5"/>
<circle cx="607.4" cy="1731" r="8.5"/>
<circle cx="642.5" cy="1683.9" r="8.5"/>
<circle cx="677.6" cy="1614" r="8.5"/>
<circle cx="712.6" cy="1593" r="8.5"/>
<circle cx="747.7" cy="1593" r="8.5"/>
<circle cx="782.8" cy="1611" r="8.5"/>
<circle cx="800.2" cy="1482.9" r="8.5"/>
<circle cx="817.6" cy="1485.6" r="8.5"/>
<circle cx="835.3" cy="1485.9" r="8.5"/>
<circle cx="852.7" cy="1489.5" r="8.5"/>
<circle cx="870.4" cy="1475.4" r="8.5"/>
<circle cx="887.8" cy="1486.8" r="8.5"/>
<circle cx="905.5" cy="1444.8" r="8.5"/>
<circle cx="922.9" cy="1443.6" r="8.5"/>
<circle cx="940.3" cy="1442.1" r="8.5"/>
<circle cx="958" cy="1422" r="8.5"/>
</g></g>
<path d="M229.95 1861.6v14.9M405.15 1861.6v14.9M580.35 1861.6v14.9M755.56 1861.6v14.9M930.76 1861.6v14.9" stroke="#000" stroke-width="3.1" fill="none"/>
<path d="M171.55 1861.6v8.7M288.35 1861.6v8.7M346.75 1861.6v8.7M463.55 1861.6v8.7M521.95 1861.6v8.7M638.75 1861.6v8.7M697.15 1861.6v8.7M813.96 1861.6v8.7M872.36 1861.6v8.7M989.16 1861.6v8.7M148.8 1420.01h-8.7M148.8 1476.35h-8.7M148.8 1542.99h-8.7M148.8 1624.55h-8.7M148.8 1729.7h-8.7" stroke="#000" stroke-width="2.3" fill="none"/>
<rect x="148.8" y="1374.7" width="847.9" height="486.9" fill="none" stroke="#000" stroke-width="3.3"/>
<g font-size="38" fill="#000">
<text x="229.95" y="1920.2" text-anchor="middle">−90</text>
<text x="405.15" y="1920.2" text-anchor="middle">0</text>
<text x="580.35" y="1920.2" text-anchor="middle">90</text>
<text x="755.56" y="1920.2" text-anchor="middle">180</text>
<text x="930.76" y="1920.2" text-anchor="middle">270</text>
<text x="126.3" y="1434.71" text-anchor="end">70</text>
<text x="126.3" y="1491.05" text-anchor="end">60</text>
<text x="126.3" y="1557.69" text-anchor="end">50</text>
<text x="126.3" y="1639.25" text-anchor="end">40</text>
<text x="126.3" y="1744.4" text-anchor="end">30</text>
<text transform="translate(52.9 1618.15) rotate(-90)" text-anchor="middle">Radius (au)</text>
<text x="572.75" y="1972.8" text-anchor="middle">Polar angle (deg)</text>
</g>
<text x="572.75" y="1349.5" text-anchor="middle" font-size="45.6">WaOph 6</text>
<rect x="167.7" y="1393.9" width="183.9" height="122" rx="6" ry="6" fill="#fff" fill-opacity="0.8" stroke="#d5d5d5" stroke-width="4.6"/>
<path d="M220.5 1405.5V1443.5" stroke="#0066ff" stroke-width="6" fill="none"/>
<circle cx="220.5" cy="1424.5" r="8.5" fill="#0066ff"/>
<text x="288.9" y="1438.1" font-size="38">S1</text>
<path d="M220.5 1461.1V1499.1" stroke="#ff3300" stroke-width="6" fill="none"/>
<circle cx="220.5" cy="1480.1" r="8.5" fill="#ff3300"/>
<text x="288.9" y="1493.7" font-size="38">S2</text>
</g>
</svg></body></html>
